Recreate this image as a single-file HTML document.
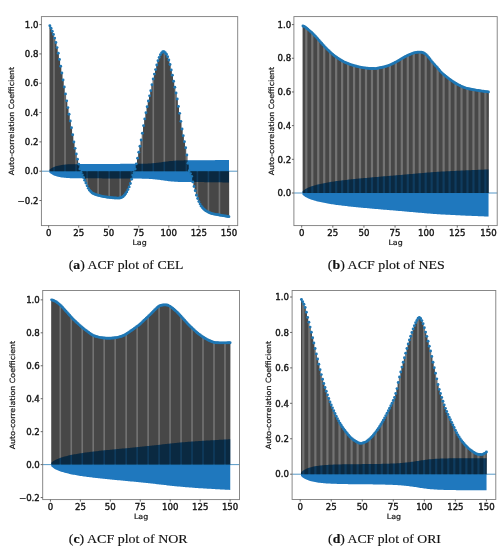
<!DOCTYPE html>
<html lang="en"><head><meta charset="utf-8"><title>ACF plots</title>
<style>
html,body{margin:0;padding:0;background:#fff;}
body{width:504px;height:550px;overflow:hidden;position:relative;}
svg{position:absolute;left:0;top:0;display:block;}
.tk{font-family:"DejaVu Sans","Liberation Sans",sans-serif;font-size:8.6px;fill:#161616;stroke:#161616;stroke-width:0.4px;}
.lb{font-family:"DejaVu Sans","Liberation Sans",sans-serif;font-size:7.9px;fill:#161616;stroke:#161616;stroke-width:0.22px;}
.cap{font-family:"Liberation Serif","DejaVu Serif",serif;font-size:13.0px;fill:#111;stroke:#111;stroke-width:0.15px;}
.cap .b{font-weight:bold;}
</style></head><body>
<svg width="504" height="550" viewBox="0 0 504 550">
<rect width="504" height="550" fill="#fff"/>
<g id="plot-a">
<polygon points="49.43,169.67 51.05,168.56 52.25,167.81 53.46,167.23 54.66,166.74 55.86,166.33 57.06,165.97 58.26,165.66 59.46,165.39 60.67,165.16 61.87,164.96 63.07,164.79 64.27,164.65 65.47,164.53 66.67,164.44 67.88,164.36 69.08,164.29 70.28,164.24 71.48,164.2 72.68,164.17 73.88,164.15 75.09,164.14 76.29,164.13 77.49,164.12 78.69,164.12 79.89,164.12 81.09,164.12 82.3,164.12 83.5,164.12 84.7,164.12 85.9,164.12 87.1,164.12 88.31,164.11 89.51,164.11 90.71,164.1 91.91,164.1 93.11,164.09 94.31,164.08 95.52,164.07 96.72,164.07 97.92,164.06 99.12,164.05 100.32,164.04 101.52,164.03 102.72,164.02 103.93,164.01 105.13,164 106.33,163.99 107.53,163.98 108.73,163.97 109.94,163.96 111.14,163.95 112.34,163.94 113.54,163.93 114.74,163.92 115.94,163.91 117.15,163.9 118.35,163.89 119.55,163.88 120.75,163.86 121.95,163.85 123.15,163.84 124.35,163.83 125.56,163.83 126.76,163.82 127.96,163.81 129.16,163.81 130.36,163.8 131.56,163.8 132.77,163.8 133.97,163.8 135.17,163.8 136.37,163.8 137.57,163.8 138.78,163.8 139.98,163.79 141.18,163.78 142.38,163.77 143.58,163.75 144.78,163.72 145.98,163.68 147.19,163.63 148.39,163.57 149.59,163.5 150.79,163.42 151.99,163.32 153.19,163.22 154.4,163.11 155.6,162.98 156.8,162.84 158,162.7 159.2,162.54 160.41,162.38 161.61,162.21 162.81,162.04 164.01,161.87 165.21,161.71 166.41,161.54 167.62,161.39 168.82,161.25 170.02,161.11 171.22,160.99 172.42,160.88 173.62,160.78 174.82,160.7 176.03,160.62 177.23,160.56 178.43,160.51 179.63,160.46 180.83,160.43 182.03,160.4 183.24,160.39 184.44,160.37 185.64,160.36 186.84,160.36 188.04,160.36 189.25,160.35 190.45,160.35 191.65,160.35 192.85,160.35 194.05,160.35 195.25,160.35 196.46,160.35 197.66,160.34 198.86,160.33 200.06,160.32 201.26,160.31 202.46,160.3 203.66,160.29 204.87,160.27 206.07,160.26 207.27,160.24 208.47,160.23 209.67,160.21 210.88,160.19 212.08,160.17 213.28,160.16 214.48,160.14 215.68,160.12 216.88,160.1 218.09,160.08 219.29,160.06 220.49,160.05 221.69,160.03 222.89,160.01 224.09,159.99 225.3,159.97 226.5,159.95 227.7,159.93 229.02,159.91 229.02,182.49 227.7,182.47 226.5,182.45 225.3,182.43 224.09,182.41 222.89,182.39 221.69,182.37 220.49,182.35 219.29,182.34 218.09,182.32 216.88,182.3 215.68,182.28 214.48,182.26 213.28,182.24 212.08,182.23 210.88,182.21 209.67,182.19 208.47,182.17 207.27,182.16 206.07,182.14 204.87,182.13 203.66,182.11 202.46,182.1 201.26,182.09 200.06,182.08 198.86,182.07 197.66,182.06 196.46,182.05 195.25,182.05 194.05,182.05 192.85,182.05 191.65,182.05 190.45,182.05 189.25,182.05 188.04,182.04 186.84,182.04 185.64,182.04 184.44,182.03 183.24,182.01 182.03,182 180.83,181.97 179.63,181.94 178.43,181.89 177.23,181.84 176.03,181.78 174.82,181.7 173.62,181.62 172.42,181.52 171.22,181.41 170.02,181.29 168.82,181.15 167.62,181.01 166.41,180.86 165.21,180.69 164.01,180.53 162.81,180.36 161.61,180.19 160.41,180.02 159.2,179.86 158,179.7 156.8,179.56 155.6,179.42 154.4,179.29 153.19,179.18 151.99,179.08 150.79,178.98 149.59,178.9 148.39,178.83 147.19,178.77 145.98,178.72 144.78,178.68 143.58,178.65 142.38,178.63 141.18,178.62 139.98,178.61 138.78,178.6 137.57,178.6 136.37,178.6 135.17,178.6 133.97,178.6 132.77,178.6 131.56,178.6 130.36,178.6 129.16,178.59 127.96,178.59 126.76,178.58 125.56,178.57 124.35,178.57 123.15,178.56 121.95,178.55 120.75,178.54 119.55,178.52 118.35,178.51 117.15,178.5 115.94,178.49 114.74,178.48 113.54,178.47 112.34,178.46 111.14,178.45 109.94,178.44 108.73,178.43 107.53,178.42 106.33,178.41 105.13,178.4 103.93,178.39 102.72,178.38 101.52,178.37 100.32,178.36 99.12,178.35 97.92,178.34 96.72,178.33 95.52,178.33 94.31,178.32 93.11,178.31 91.91,178.3 90.71,178.3 89.51,178.29 88.31,178.29 87.1,178.28 85.9,178.28 84.7,178.28 83.5,178.28 82.3,178.28 81.09,178.28 79.89,178.28 78.69,178.28 77.49,178.28 76.29,178.27 75.09,178.26 73.88,178.25 72.68,178.23 71.48,178.2 70.28,178.16 69.08,178.11 67.88,178.04 66.67,177.96 65.47,177.87 64.27,177.75 63.07,177.61 61.87,177.44 60.67,177.24 59.46,177.01 58.26,176.74 57.06,176.43 55.86,176.07 54.66,175.66 53.46,175.17 52.25,174.59 51.05,173.84 49.43,172.73" fill="#1f78bf"/>
<rect x="41.4" y="170.7" width="196.3" height="1" fill="#1f77b4" opacity="0.75"/>
<clipPath id="cp-a"><polygon points="49.37,171.2 49.25,25.77 50.45,25.77 50.45,28.31 51.65,28.31 51.65,31.2 52.86,31.2 52.86,34.39 54.06,34.39 54.06,38.09 55.26,38.09 55.26,42.52 56.46,42.52 56.46,47.62 57.66,47.62 57.66,53.19 58.86,53.19 58.86,59.47 60.07,59.47 60.07,66.23 61.27,66.23 61.27,73.02 62.47,73.02 62.47,79.94 63.67,79.94 63.67,86.94 64.87,86.94 64.87,93.92 66.07,93.92 66.07,100.83 67.28,100.83 67.28,107.61 68.48,107.61 68.48,114.31 69.68,114.31 69.68,121 70.88,121 70.88,127.77 72.08,127.77 72.08,134.7 73.28,134.7 73.28,142.06 74.49,142.06 74.49,148.35 75.69,148.35 75.69,153.95 76.89,153.95 76.89,159.13 78.09,159.13 78.09,164.11 79.29,164.11 79.29,168.9 80.49,168.9 80.49,172.39 81.7,172.39 81.7,174.84 82.9,174.84 82.9,177.45 84.1,177.45 84.1,180.24 85.3,180.24 85.3,183.07 86.5,183.07 86.5,185.83 87.7,185.83 87.7,188.36 88.91,188.36 88.91,190.16 90.11,190.16 90.11,191.57 91.31,191.57 91.31,192.68 92.51,192.68 92.51,193.47 93.71,193.47 93.71,194.05 94.91,194.05 94.91,194.51 96.12,194.51 96.12,194.9 97.32,194.9 97.32,195.24 98.52,195.24 98.52,195.56 99.72,195.56 99.72,195.86 100.92,195.86 100.92,196.15 102.12,196.15 102.12,196.41 103.33,196.41 103.33,196.65 104.53,196.65 104.53,196.87 105.73,196.87 105.73,197.06 106.93,197.06 106.93,197.22 108.13,197.22 108.13,197.36 109.33,197.36 109.33,197.5 110.54,197.5 110.54,197.63 111.74,197.63 111.74,197.76 112.94,197.76 112.94,197.87 114.14,197.87 114.14,197.96 115.34,197.96 115.34,198.04 116.54,198.04 116.54,198.08 117.75,198.08 117.75,198.1 118.95,198.1 118.95,197.98 120.15,197.98 120.15,197.68 121.35,197.68 121.35,197.24 122.55,197.24 122.55,196.53 123.75,196.53 123.75,195.27 124.96,195.27 124.96,193.69 126.16,193.69 126.16,191.89 127.36,191.89 127.36,189.61 128.56,189.61 128.56,186.89 129.76,186.89 129.76,183.43 130.96,183.43 130.96,179.2 132.17,179.2 132.17,175.09 133.37,175.09 133.37,172.69 134.57,172.69 134.57,169.11 135.77,169.11 135.77,163.87 136.97,163.87 136.97,158.16 138.17,158.16 138.17,152.26 139.38,152.26 139.38,146.27 140.58,146.27 140.58,140.04 141.78,140.04 141.78,133.19 142.98,133.19 142.98,125.65 144.18,125.65 144.18,118.91 145.38,118.91 145.38,112.77 146.59,112.77 146.59,106.74 147.79,106.74 147.79,100.94 148.99,100.94 148.99,95.84 150.19,95.84 150.19,90.66 151.39,90.66 151.39,84.82 152.59,84.82 152.59,78.95 153.8,78.95 153.8,74.09 155,74.09 155,69.59 156.2,69.59 156.2,65.05 157.4,65.05 157.4,60.77 158.6,60.77 158.6,57.41 159.8,57.41 159.8,54.72 161.01,54.72 161.01,52.83 162.21,52.83 162.21,51.77 163.41,51.77 163.41,51.65 164.61,51.65 164.61,52.68 165.81,52.68 165.81,54.31 167.01,54.31 167.01,56.72 168.22,56.72 168.22,59.94 169.42,59.94 169.42,64.48 170.62,64.48 170.62,70.04 171.82,70.04 171.82,75.15 173.02,75.15 173.02,81.31 174.22,81.31 174.22,87.25 175.43,87.25 175.43,93.06 176.63,93.06 176.63,99.07 177.83,99.07 177.83,106.39 179.03,106.39 179.03,113.33 180.23,113.33 180.23,121.34 181.43,121.34 181.43,129.06 182.64,129.06 182.64,135.65 183.84,135.65 183.84,141.65 185.04,141.65 185.04,147.76 186.24,147.76 186.24,154.99 187.44,154.99 187.44,163.31 188.64,163.31 188.64,170.73 189.85,170.73 189.85,173.62 191.05,173.62 191.05,176.36 192.25,176.36 192.25,181.91 193.45,181.91 193.45,186.51 194.65,186.51 194.65,190.77 195.85,190.77 195.85,195.19 197.06,195.19 197.06,198.47 198.26,198.47 198.26,201.6 199.46,201.6 199.46,204.1 200.66,204.1 200.66,206.17 201.86,206.17 201.86,207.72 203.06,207.72 203.06,209.01 204.27,209.01 204.27,210.06 205.47,210.06 205.47,210.88 206.67,210.88 206.67,211.61 207.87,211.61 207.87,212.25 209.07,212.25 209.07,212.81 210.27,212.81 210.27,213.27 211.48,213.27 211.48,213.63 212.68,213.63 212.68,213.92 213.88,213.92 213.88,214.17 215.08,214.17 215.08,214.38 216.28,214.38 216.28,214.58 217.48,214.58 217.48,214.79 218.69,214.79 218.69,215.01 219.89,215.01 219.89,215.22 221.09,215.22 221.09,215.42 222.29,215.42 222.29,215.63 223.49,215.63 223.49,215.83 224.69,215.83 224.69,216.04 225.9,216.04 225.9,216.24 227.1,216.24 227.1,216.44 228.3,216.44 228.3,216.65 229.5,216.65 229.32,171.2"/></clipPath>
<g clip-path="url(#cp-a)">
<rect x="49.37" y="16.6" width="179.95" height="209" fill="#000" opacity="0.55"/>
<g fill="#000" opacity="0.38"><rect x="49.37" y="16.6" width="3.83" height="209"/><rect x="54.8" y="16.6" width="9.43" height="209"/><rect x="65.83" y="16.6" width="9.43" height="209"/><rect x="76.86" y="16.6" width="9.43" height="209"/><rect x="87.89" y="16.6" width="9.43" height="209"/><rect x="98.92" y="16.6" width="9.43" height="209"/><rect x="109.95" y="16.6" width="9.43" height="209"/><rect x="120.98" y="16.6" width="9.43" height="209"/><rect x="132.01" y="16.6" width="9.43" height="209"/><rect x="143.04" y="16.6" width="9.43" height="209"/><rect x="154.07" y="16.6" width="9.43" height="209"/><rect x="165.1" y="16.6" width="9.43" height="209"/><rect x="176.13" y="16.6" width="9.43" height="209"/><rect x="187.16" y="16.6" width="9.43" height="209"/><rect x="198.19" y="16.6" width="9.43" height="209"/><rect x="209.22" y="16.6" width="9.43" height="209"/><rect x="220.25" y="16.6" width="9.07" height="209"/></g>
</g>
<polygon points="49.43,169.67 51.05,168.56 52.25,167.81 53.46,167.23 54.66,166.74 55.86,166.33 57.06,165.97 58.26,165.66 59.46,165.39 60.67,165.16 61.87,164.96 63.07,164.79 64.27,164.65 65.47,164.53 66.67,164.44 67.88,164.36 69.08,164.29 70.28,164.24 71.48,164.2 72.68,164.17 73.88,164.15 75.09,164.14 76.29,164.13 77.49,164.12 78.69,164.12 79.89,164.12 81.09,164.12 82.3,164.12 83.5,164.12 84.7,164.12 85.9,164.12 87.1,164.12 88.31,164.11 89.51,164.11 90.71,164.1 91.91,164.1 93.11,164.09 94.31,164.08 95.52,164.07 96.72,164.07 97.92,164.06 99.12,164.05 100.32,164.04 101.52,164.03 102.72,164.02 103.93,164.01 105.13,164 106.33,163.99 107.53,163.98 108.73,163.97 109.94,163.96 111.14,163.95 112.34,163.94 113.54,163.93 114.74,163.92 115.94,163.91 117.15,163.9 118.35,163.89 119.55,163.88 120.75,163.86 121.95,163.85 123.15,163.84 124.35,163.83 125.56,163.83 126.76,163.82 127.96,163.81 129.16,163.81 130.36,163.8 131.56,163.8 132.77,163.8 133.97,163.8 135.17,163.8 136.37,163.8 137.57,163.8 138.78,163.8 139.98,163.79 141.18,163.78 142.38,163.77 143.58,163.75 144.78,163.72 145.98,163.68 147.19,163.63 148.39,163.57 149.59,163.5 150.79,163.42 151.99,163.32 153.19,163.22 154.4,163.11 155.6,162.98 156.8,162.84 158,162.7 159.2,162.54 160.41,162.38 161.61,162.21 162.81,162.04 164.01,161.87 165.21,161.71 166.41,161.54 167.62,161.39 168.82,161.25 170.02,161.11 171.22,160.99 172.42,160.88 173.62,160.78 174.82,160.7 176.03,160.62 177.23,160.56 178.43,160.51 179.63,160.46 180.83,160.43 182.03,160.4 183.24,160.39 184.44,160.37 185.64,160.36 186.84,160.36 188.04,160.36 189.25,160.35 190.45,160.35 191.65,160.35 192.85,160.35 194.05,160.35 195.25,160.35 196.46,160.35 197.66,160.34 198.86,160.33 200.06,160.32 201.26,160.31 202.46,160.3 203.66,160.29 204.87,160.27 206.07,160.26 207.27,160.24 208.47,160.23 209.67,160.21 210.88,160.19 212.08,160.17 213.28,160.16 214.48,160.14 215.68,160.12 216.88,160.1 218.09,160.08 219.29,160.06 220.49,160.05 221.69,160.03 222.89,160.01 224.09,159.99 225.3,159.97 226.5,159.95 227.7,159.93 229.02,159.91 229.02,182.49 227.7,182.47 226.5,182.45 225.3,182.43 224.09,182.41 222.89,182.39 221.69,182.37 220.49,182.35 219.29,182.34 218.09,182.32 216.88,182.3 215.68,182.28 214.48,182.26 213.28,182.24 212.08,182.23 210.88,182.21 209.67,182.19 208.47,182.17 207.27,182.16 206.07,182.14 204.87,182.13 203.66,182.11 202.46,182.1 201.26,182.09 200.06,182.08 198.86,182.07 197.66,182.06 196.46,182.05 195.25,182.05 194.05,182.05 192.85,182.05 191.65,182.05 190.45,182.05 189.25,182.05 188.04,182.04 186.84,182.04 185.64,182.04 184.44,182.03 183.24,182.01 182.03,182 180.83,181.97 179.63,181.94 178.43,181.89 177.23,181.84 176.03,181.78 174.82,181.7 173.62,181.62 172.42,181.52 171.22,181.41 170.02,181.29 168.82,181.15 167.62,181.01 166.41,180.86 165.21,180.69 164.01,180.53 162.81,180.36 161.61,180.19 160.41,180.02 159.2,179.86 158,179.7 156.8,179.56 155.6,179.42 154.4,179.29 153.19,179.18 151.99,179.08 150.79,178.98 149.59,178.9 148.39,178.83 147.19,178.77 145.98,178.72 144.78,178.68 143.58,178.65 142.38,178.63 141.18,178.62 139.98,178.61 138.78,178.6 137.57,178.6 136.37,178.6 135.17,178.6 133.97,178.6 132.77,178.6 131.56,178.6 130.36,178.6 129.16,178.59 127.96,178.59 126.76,178.58 125.56,178.57 124.35,178.57 123.15,178.56 121.95,178.55 120.75,178.54 119.55,178.52 118.35,178.51 117.15,178.5 115.94,178.49 114.74,178.48 113.54,178.47 112.34,178.46 111.14,178.45 109.94,178.44 108.73,178.43 107.53,178.42 106.33,178.41 105.13,178.4 103.93,178.39 102.72,178.38 101.52,178.37 100.32,178.36 99.12,178.35 97.92,178.34 96.72,178.33 95.52,178.33 94.31,178.32 93.11,178.31 91.91,178.3 90.71,178.3 89.51,178.29 88.31,178.29 87.1,178.28 85.9,178.28 84.7,178.28 83.5,178.28 82.3,178.28 81.09,178.28 79.89,178.28 78.69,178.28 77.49,178.28 76.29,178.27 75.09,178.26 73.88,178.25 72.68,178.23 71.48,178.2 70.28,178.16 69.08,178.11 67.88,178.04 66.67,177.96 65.47,177.87 64.27,177.75 63.07,177.61 61.87,177.44 60.67,177.24 59.46,177.01 58.26,176.74 57.06,176.43 55.86,176.07 54.66,175.66 53.46,175.17 52.25,174.59 51.05,173.84 49.43,172.73" fill="#1f78bf" opacity="0.09"/>
<g fill="#1f77b4"><circle cx="49.85" cy="25.77" r="1.45"/><circle cx="51.05" cy="28.31" r="1.45"/><circle cx="52.25" cy="31.2" r="1.45"/><circle cx="53.46" cy="34.39" r="1.45"/><circle cx="54.66" cy="38.09" r="1.45"/><circle cx="55.86" cy="42.52" r="1.45"/><circle cx="57.06" cy="47.62" r="1.45"/><circle cx="58.26" cy="53.19" r="1.45"/><circle cx="59.46" cy="59.47" r="1.45"/><circle cx="60.67" cy="66.23" r="1.45"/><circle cx="61.87" cy="73.02" r="1.45"/><circle cx="63.07" cy="79.94" r="1.45"/><circle cx="64.27" cy="86.94" r="1.45"/><circle cx="65.47" cy="93.92" r="1.45"/><circle cx="66.67" cy="100.83" r="1.45"/><circle cx="67.88" cy="107.61" r="1.45"/><circle cx="69.08" cy="114.31" r="1.45"/><circle cx="70.28" cy="121" r="1.45"/><circle cx="71.48" cy="127.77" r="1.45"/><circle cx="72.68" cy="134.7" r="1.45"/><circle cx="73.88" cy="142.06" r="1.45"/><circle cx="75.09" cy="148.35" r="1.45"/><circle cx="76.29" cy="153.95" r="1.45"/><circle cx="77.49" cy="159.13" r="1.45"/><circle cx="78.69" cy="164.11" r="1.45"/><circle cx="79.89" cy="168.9" r="1.45"/><circle cx="81.09" cy="172.39" r="1.45"/><circle cx="82.3" cy="174.84" r="1.45"/><circle cx="83.5" cy="177.45" r="1.45"/><circle cx="84.7" cy="180.24" r="1.45"/><circle cx="85.9" cy="183.07" r="1.45"/><circle cx="87.1" cy="185.83" r="1.45"/><circle cx="88.31" cy="188.36" r="1.45"/><circle cx="89.51" cy="190.16" r="1.45"/><circle cx="90.71" cy="191.57" r="1.45"/><circle cx="91.91" cy="192.68" r="1.45"/><circle cx="93.11" cy="193.47" r="1.45"/><circle cx="94.31" cy="194.05" r="1.45"/><circle cx="95.52" cy="194.51" r="1.45"/><circle cx="96.72" cy="194.9" r="1.45"/><circle cx="97.92" cy="195.24" r="1.45"/><circle cx="99.12" cy="195.56" r="1.45"/><circle cx="100.32" cy="195.86" r="1.45"/><circle cx="101.52" cy="196.15" r="1.45"/><circle cx="102.72" cy="196.41" r="1.45"/><circle cx="103.93" cy="196.65" r="1.45"/><circle cx="105.13" cy="196.87" r="1.45"/><circle cx="106.33" cy="197.06" r="1.45"/><circle cx="107.53" cy="197.22" r="1.45"/><circle cx="108.73" cy="197.36" r="1.45"/><circle cx="109.94" cy="197.5" r="1.45"/><circle cx="111.14" cy="197.63" r="1.45"/><circle cx="112.34" cy="197.76" r="1.45"/><circle cx="113.54" cy="197.87" r="1.45"/><circle cx="114.74" cy="197.96" r="1.45"/><circle cx="115.94" cy="198.04" r="1.45"/><circle cx="117.15" cy="198.08" r="1.45"/><circle cx="118.35" cy="198.1" r="1.45"/><circle cx="119.55" cy="197.98" r="1.45"/><circle cx="120.75" cy="197.68" r="1.45"/><circle cx="121.95" cy="197.24" r="1.45"/><circle cx="123.15" cy="196.53" r="1.45"/><circle cx="124.35" cy="195.27" r="1.45"/><circle cx="125.56" cy="193.69" r="1.45"/><circle cx="126.76" cy="191.89" r="1.45"/><circle cx="127.96" cy="189.61" r="1.45"/><circle cx="129.16" cy="186.89" r="1.45"/><circle cx="130.36" cy="183.43" r="1.45"/><circle cx="131.56" cy="179.2" r="1.45"/><circle cx="132.77" cy="175.09" r="1.45"/><circle cx="133.97" cy="172.69" r="1.45"/><circle cx="135.17" cy="169.11" r="1.45"/><circle cx="136.37" cy="163.87" r="1.45"/><circle cx="137.57" cy="158.16" r="1.45"/><circle cx="138.78" cy="152.26" r="1.45"/><circle cx="139.98" cy="146.27" r="1.45"/><circle cx="141.18" cy="140.04" r="1.45"/><circle cx="142.38" cy="133.19" r="1.45"/><circle cx="143.58" cy="125.65" r="1.45"/><circle cx="144.78" cy="118.91" r="1.45"/><circle cx="145.98" cy="112.77" r="1.45"/><circle cx="147.19" cy="106.74" r="1.45"/><circle cx="148.39" cy="100.94" r="1.45"/><circle cx="149.59" cy="95.84" r="1.45"/><circle cx="150.79" cy="90.66" r="1.45"/><circle cx="151.99" cy="84.82" r="1.45"/><circle cx="153.19" cy="78.95" r="1.45"/><circle cx="154.4" cy="74.09" r="1.45"/><circle cx="155.6" cy="69.59" r="1.45"/><circle cx="156.8" cy="65.05" r="1.45"/><circle cx="158" cy="60.77" r="1.45"/><circle cx="159.2" cy="57.41" r="1.45"/><circle cx="160.41" cy="54.72" r="1.45"/><circle cx="161.61" cy="52.83" r="1.45"/><circle cx="162.81" cy="51.77" r="1.45"/><circle cx="164.01" cy="51.65" r="1.45"/><circle cx="165.21" cy="52.68" r="1.45"/><circle cx="166.41" cy="54.31" r="1.45"/><circle cx="167.62" cy="56.72" r="1.45"/><circle cx="168.82" cy="59.94" r="1.45"/><circle cx="170.02" cy="64.48" r="1.45"/><circle cx="171.22" cy="70.04" r="1.45"/><circle cx="172.42" cy="75.15" r="1.45"/><circle cx="173.62" cy="81.31" r="1.45"/><circle cx="174.82" cy="87.25" r="1.45"/><circle cx="176.03" cy="93.06" r="1.45"/><circle cx="177.23" cy="99.07" r="1.45"/><circle cx="178.43" cy="106.39" r="1.45"/><circle cx="179.63" cy="113.33" r="1.45"/><circle cx="180.83" cy="121.34" r="1.45"/><circle cx="182.03" cy="129.06" r="1.45"/><circle cx="183.24" cy="135.65" r="1.45"/><circle cx="184.44" cy="141.65" r="1.45"/><circle cx="185.64" cy="147.76" r="1.45"/><circle cx="186.84" cy="154.99" r="1.45"/><circle cx="188.04" cy="163.31" r="1.45"/><circle cx="189.25" cy="170.73" r="1.45"/><circle cx="190.45" cy="173.62" r="1.45"/><circle cx="191.65" cy="176.36" r="1.45"/><circle cx="192.85" cy="181.91" r="1.45"/><circle cx="194.05" cy="186.51" r="1.45"/><circle cx="195.25" cy="190.77" r="1.45"/><circle cx="196.46" cy="195.19" r="1.45"/><circle cx="197.66" cy="198.47" r="1.45"/><circle cx="198.86" cy="201.6" r="1.45"/><circle cx="200.06" cy="204.1" r="1.45"/><circle cx="201.26" cy="206.17" r="1.45"/><circle cx="202.46" cy="207.72" r="1.45"/><circle cx="203.66" cy="209.01" r="1.45"/><circle cx="204.87" cy="210.06" r="1.45"/><circle cx="206.07" cy="210.88" r="1.45"/><circle cx="207.27" cy="211.61" r="1.45"/><circle cx="208.47" cy="212.25" r="1.45"/><circle cx="209.67" cy="212.81" r="1.45"/><circle cx="210.88" cy="213.27" r="1.45"/><circle cx="212.08" cy="213.63" r="1.45"/><circle cx="213.28" cy="213.92" r="1.45"/><circle cx="214.48" cy="214.17" r="1.45"/><circle cx="215.68" cy="214.38" r="1.45"/><circle cx="216.88" cy="214.58" r="1.45"/><circle cx="218.09" cy="214.79" r="1.45"/><circle cx="219.29" cy="215.01" r="1.45"/><circle cx="220.49" cy="215.22" r="1.45"/><circle cx="221.69" cy="215.42" r="1.45"/><circle cx="222.89" cy="215.63" r="1.45"/><circle cx="224.09" cy="215.83" r="1.45"/><circle cx="225.3" cy="216.04" r="1.45"/><circle cx="226.5" cy="216.24" r="1.45"/><circle cx="227.7" cy="216.44" r="1.45"/><circle cx="228.9" cy="216.65" r="1.45"/></g>
<rect x="41.4" y="16.6" width="196.3" height="209" fill="none" stroke="#7c7c7c" stroke-width="0.9"/>
<g stroke="#555" stroke-width="0.9"><line x1="48.65" y1="225.6" x2="48.65" y2="227.6"/><line x1="78.69" y1="225.6" x2="78.69" y2="227.6"/><line x1="108.73" y1="225.6" x2="108.73" y2="227.6"/><line x1="138.78" y1="225.6" x2="138.78" y2="227.6"/><line x1="168.82" y1="225.6" x2="168.82" y2="227.6"/><line x1="198.86" y1="225.6" x2="198.86" y2="227.6"/><line x1="228.9" y1="225.6" x2="228.9" y2="227.6"/><line x1="39.4" y1="200.52" x2="41.4" y2="200.52"/><line x1="39.4" y1="171.2" x2="41.4" y2="171.2"/><line x1="39.4" y1="141.88" x2="41.4" y2="141.88"/><line x1="39.4" y1="112.56" x2="41.4" y2="112.56"/><line x1="39.4" y1="83.24" x2="41.4" y2="83.24"/><line x1="39.4" y1="53.92" x2="41.4" y2="53.92"/><line x1="39.4" y1="24.6" x2="41.4" y2="24.6"/></g>
<text class="tk" transform="translate(48.65,235.8) scale(1,0.93)" text-anchor="middle">0</text><text class="tk" transform="translate(78.69,235.8) scale(1,0.93)" text-anchor="middle">25</text><text class="tk" transform="translate(108.73,235.8) scale(1,0.93)" text-anchor="middle">50</text><text class="tk" transform="translate(138.78,235.8) scale(1,0.93)" text-anchor="middle">75</text><text class="tk" transform="translate(168.82,235.8) scale(1,0.93)" text-anchor="middle">100</text><text class="tk" transform="translate(198.86,235.8) scale(1,0.93)" text-anchor="middle">125</text><text class="tk" transform="translate(228.9,235.8) scale(1,0.93)" text-anchor="middle">150</text>
<text class="tk" transform="translate(38.4,203.72) scale(1,0.93)" text-anchor="end">−0.2</text><text class="tk" transform="translate(38.4,174.4) scale(1,0.93)" text-anchor="end">0.0</text><text class="tk" transform="translate(38.4,145.08) scale(1,0.93)" text-anchor="end">0.2</text><text class="tk" transform="translate(38.4,115.76) scale(1,0.93)" text-anchor="end">0.4</text><text class="tk" transform="translate(38.4,86.44) scale(1,0.93)" text-anchor="end">0.6</text><text class="tk" transform="translate(38.4,57.12) scale(1,0.93)" text-anchor="end">0.8</text><text class="tk" transform="translate(38.4,27.8) scale(1,0.93)" text-anchor="end">1.0</text>
<text class="lb" transform="translate(139.55,244.7) scale(1,0.92)" text-anchor="middle">Lag</text>
<text class="lb" transform="translate(13.6,121.1) rotate(-90) scale(1,0.92)" text-anchor="middle">Auto-correlation Coefficient</text>
<text class="cap" transform="translate(126.05,269) scale(1.058,1)" text-anchor="middle">(<tspan class="b">a</tspan>) ACF plot of CEL</text>
</g>
<g id="plot-b">
<polygon points="302.51,191.24 304.19,189.96 305.43,189.09 306.68,188.38 307.92,187.78 309.17,187.24 310.41,186.76 311.66,186.32 312.9,185.91 314.15,185.52 315.39,185.17 316.64,184.83 317.88,184.51 319.13,184.21 320.37,183.93 321.61,183.65 322.86,183.39 324.1,183.15 325.35,182.91 326.59,182.68 327.84,182.46 329.08,182.25 330.33,182.05 331.57,181.85 332.82,181.66 334.06,181.48 335.31,181.3 336.55,181.12 337.8,180.96 339.04,180.79 340.28,180.63 341.53,180.47 342.77,180.32 344.02,180.17 345.26,180.03 346.51,179.88 347.75,179.74 349,179.6 350.24,179.47 351.49,179.34 352.73,179.2 353.98,179.08 355.22,178.95 356.47,178.82 357.71,178.7 358.95,178.58 360.2,178.46 361.44,178.34 362.69,178.22 363.93,178.1 365.18,177.99 366.42,177.88 367.67,177.76 368.91,177.65 370.16,177.54 371.4,177.43 372.65,177.32 373.89,177.22 375.14,177.11 376.38,177 377.62,176.9 378.87,176.79 380.11,176.68 381.36,176.58 382.6,176.48 383.85,176.37 385.09,176.27 386.34,176.16 387.58,176.06 388.83,175.95 390.07,175.85 391.32,175.74 392.56,175.64 393.81,175.53 395.05,175.43 396.29,175.32 397.54,175.22 398.78,175.11 400.03,175 401.27,174.89 402.52,174.79 403.76,174.68 405.01,174.57 406.25,174.46 407.5,174.35 408.74,174.24 409.99,174.12 411.23,174.01 412.48,173.9 413.72,173.79 414.96,173.68 416.21,173.57 417.45,173.46 418.7,173.35 419.94,173.24 421.19,173.13 422.43,173.02 423.68,172.91 424.92,172.8 426.17,172.7 427.41,172.59 428.66,172.49 429.9,172.4 431.15,172.3 432.39,172.21 433.63,172.12 434.88,172.03 436.12,171.94 437.37,171.86 438.61,171.78 439.86,171.7 441.1,171.62 442.35,171.55 443.59,171.48 444.84,171.4 446.08,171.33 447.33,171.27 448.57,171.2 449.82,171.13 451.06,171.07 452.3,171 453.55,170.94 454.79,170.88 456.04,170.82 457.28,170.76 458.53,170.7 459.77,170.65 461.02,170.59 462.26,170.53 463.51,170.48 464.75,170.42 466,170.37 467.24,170.32 468.49,170.26 469.73,170.21 470.97,170.16 472.22,170.11 473.46,170.06 474.71,170.01 475.95,169.96 477.2,169.91 478.44,169.86 479.69,169.81 480.93,169.76 482.18,169.71 483.42,169.66 484.67,169.61 485.91,169.56 487.16,169.51 488.52,169.47 488.52,216.53 487.16,216.49 485.91,216.44 484.67,216.39 483.42,216.34 482.18,216.29 480.93,216.24 479.69,216.19 478.44,216.14 477.2,216.09 475.95,216.04 474.71,215.99 473.46,215.94 472.22,215.89 470.97,215.84 469.73,215.79 468.49,215.74 467.24,215.68 466,215.63 464.75,215.58 463.51,215.52 462.26,215.47 461.02,215.41 459.77,215.35 458.53,215.3 457.28,215.24 456.04,215.18 454.79,215.12 453.55,215.06 452.3,215 451.06,214.93 449.82,214.87 448.57,214.8 447.33,214.73 446.08,214.67 444.84,214.6 443.59,214.52 442.35,214.45 441.1,214.38 439.86,214.3 438.61,214.22 437.37,214.14 436.12,214.06 434.88,213.97 433.63,213.88 432.39,213.79 431.15,213.7 429.9,213.6 428.66,213.51 427.41,213.41 426.17,213.3 424.92,213.2 423.68,213.09 422.43,212.98 421.19,212.87 419.94,212.76 418.7,212.65 417.45,212.54 416.21,212.43 414.96,212.32 413.72,212.21 412.48,212.1 411.23,211.99 409.99,211.88 408.74,211.76 407.5,211.65 406.25,211.54 405.01,211.43 403.76,211.32 402.52,211.21 401.27,211.11 400.03,211 398.78,210.89 397.54,210.78 396.29,210.68 395.05,210.57 393.81,210.47 392.56,210.36 391.32,210.26 390.07,210.15 388.83,210.05 387.58,209.94 386.34,209.84 385.09,209.73 383.85,209.63 382.6,209.52 381.36,209.42 380.11,209.32 378.87,209.21 377.62,209.1 376.38,209 375.14,208.89 373.89,208.78 372.65,208.68 371.4,208.57 370.16,208.46 368.91,208.35 367.67,208.24 366.42,208.12 365.18,208.01 363.93,207.9 362.69,207.78 361.44,207.66 360.2,207.54 358.95,207.42 357.71,207.3 356.47,207.18 355.22,207.05 353.98,206.92 352.73,206.8 351.49,206.66 350.24,206.53 349,206.4 347.75,206.26 346.51,206.12 345.26,205.97 344.02,205.83 342.77,205.68 341.53,205.53 340.28,205.37 339.04,205.21 337.8,205.04 336.55,204.88 335.31,204.7 334.06,204.52 332.82,204.34 331.57,204.15 330.33,203.95 329.08,203.75 327.84,203.54 326.59,203.32 325.35,203.09 324.1,202.85 322.86,202.61 321.61,202.35 320.37,202.07 319.13,201.79 317.88,201.49 316.64,201.17 315.39,200.83 314.15,200.48 312.9,200.09 311.66,199.68 310.41,199.24 309.17,198.76 307.92,198.22 306.68,197.62 305.43,196.91 304.19,196.04 302.51,194.76" fill="#1f78bf"/>
<rect x="293.9" y="192.5" width="203.3" height="1" fill="#1f77b4" opacity="0.75"/>
<clipPath id="cp-b"><polygon points="302.45,193 302.32,25.95 303.57,25.95 303.57,26.55 304.81,26.55 304.81,27.29 306.06,27.29 306.06,28.25 307.3,28.25 307.3,29.32 308.55,29.32 308.55,30.34 309.79,30.34 309.79,31.4 311.04,31.4 311.03,32.53 312.28,32.53 312.28,33.74 313.52,33.74 313.52,34.99 314.77,34.99 314.77,36.28 316.01,36.28 316.01,37.62 317.26,37.62 317.26,39.01 318.5,39.01 318.5,40.44 319.75,40.44 319.75,41.86 320.99,41.86 320.99,43.26 322.24,43.26 322.24,44.66 323.48,44.66 323.48,46.03 324.73,46.03 324.73,47.37 325.97,47.37 325.97,48.64 327.22,48.64 327.22,49.88 328.46,49.88 328.46,51.07 329.71,51.07 329.7,52.22 330.95,52.22 330.95,53.33 332.19,53.33 332.19,54.4 333.44,54.4 333.44,55.43 334.68,55.43 334.68,56.4 335.93,56.4 335.93,57.31 337.17,57.31 337.17,58.16 338.42,58.16 338.42,58.97 339.66,58.97 339.66,59.74 340.91,59.74 340.91,60.48 342.15,60.48 342.15,61.2 343.4,61.2 343.4,61.87 344.64,61.87 344.64,62.49 345.89,62.49 345.89,63.03 347.13,63.03 347.13,63.53 348.38,63.53 348.37,63.99 349.62,63.99 349.62,64.43 350.86,64.43 350.86,64.84 352.11,64.84 352.11,65.24 353.35,65.24 353.35,65.61 354.6,65.61 354.6,65.96 355.84,65.96 355.84,66.29 357.09,66.29 357.09,66.6 358.33,66.6 358.33,66.89 359.58,66.89 359.58,67.16 360.82,67.16 360.82,67.4 362.07,67.4 362.07,67.63 363.31,67.63 363.31,67.84 364.56,67.84 364.56,68.02 365.8,68.02 365.8,68.16 367.05,68.16 367.04,68.29 368.29,68.29 368.29,68.4 369.53,68.4 369.53,68.47 370.78,68.47 370.78,68.51 372.02,68.51 372.02,68.55 373.27,68.55 373.27,68.57 374.51,68.57 374.51,68.59 375.76,68.59 375.76,68.52 377,68.52 377,68.31 378.25,68.31 378.25,68.04 379.49,68.04 379.49,67.77 380.74,67.77 380.74,67.53 381.98,67.53 381.98,67.27 383.23,67.27 383.23,66.99 384.47,66.99 384.47,66.67 385.72,66.67 385.71,66.3 386.96,66.3 386.96,65.87 388.2,65.87 388.2,65.39 389.45,65.39 389.45,64.87 390.69,64.87 390.69,64.33 391.94,64.33 391.94,63.77 393.18,63.77 393.18,63.16 394.43,63.16 394.43,62.51 395.67,62.51 395.67,61.83 396.92,61.83 396.92,61.14 398.16,61.14 398.16,60.42 399.41,60.42 399.41,59.66 400.65,59.66 400.65,58.89 401.9,58.89 401.9,58.14 403.14,58.14 403.14,57.44 404.38,57.44 404.38,56.79 405.63,56.79 405.63,56.16 406.87,56.16 406.87,55.56 408.12,55.56 408.12,55 409.36,55 409.36,54.43 410.61,54.43 410.61,53.89 411.85,53.89 411.85,53.4 413.1,53.4 413.1,53 414.34,53 414.34,52.65 415.59,52.65 415.59,52.38 416.83,52.38 416.83,52.25 418.08,52.25 418.08,52.16 419.32,52.16 419.32,52.17 420.57,52.17 420.57,52.3 421.81,52.3 421.81,52.52 423.06,52.52 423.05,52.99 424.3,52.99 424.3,53.65 425.54,53.65 425.54,54.63 426.79,54.63 426.79,56.07 428.03,56.07 428.03,57.56 429.28,57.56 429.28,59.07 430.52,59.07 430.52,60.64 431.77,60.64 431.77,62.15 433.01,62.15 433.01,63.58 434.26,63.58 434.26,64.96 435.5,64.96 435.5,66.34 436.75,66.34 436.75,67.75 437.99,67.75 437.99,69.23 439.24,69.23 439.24,70.71 440.48,70.71 440.48,72.1 441.73,72.1 441.72,73.34 442.97,73.34 442.97,74.45 444.21,74.45 444.21,75.48 445.46,75.48 445.46,76.48 446.7,76.48 446.7,77.46 447.95,77.46 447.95,78.43 449.19,78.43 449.19,79.36 450.44,79.36 450.44,80.25 451.68,80.25 451.68,81.1 452.93,81.1 452.93,81.94 454.17,81.94 454.17,82.74 455.42,82.74 455.42,83.5 456.66,83.5 456.66,84.21 457.91,84.21 457.91,84.89 459.15,84.89 459.15,85.54 460.39,85.54 460.39,86.16 461.64,86.16 461.64,86.72 462.88,86.72 462.88,87.21 464.13,87.21 464.13,87.66 465.37,87.66 465.37,88.08 466.62,88.08 466.62,88.45 467.86,88.45 467.86,88.78 469.11,88.78 469.11,89.06 470.35,89.06 470.35,89.31 471.6,89.31 471.6,89.52 472.84,89.52 472.84,89.72 474.09,89.72 474.09,89.92 475.33,89.92 475.33,90.13 476.58,90.13 476.58,90.34 477.82,90.34 477.82,90.54 479.06,90.54 479.06,90.74 480.31,90.74 480.31,90.93 481.55,90.93 481.55,91.12 482.8,91.12 482.8,91.3 484.04,91.3 484.04,91.47 485.29,91.47 485.29,91.64 486.53,91.64 486.53,91.8 487.78,91.8 487.78,91.96 489.02,91.96 488.84,193"/></clipPath>
<g clip-path="url(#cp-b)">
<rect x="302.45" y="16.6" width="186.39" height="209" fill="#000" opacity="0.55"/>
<g fill="#000" opacity="0.38"><rect x="302.45" y="16.6" width="2.75" height="209"/><rect x="307.4" y="16.6" width="3.77" height="209"/><rect x="313.37" y="16.6" width="3.77" height="209"/><rect x="319.34" y="16.6" width="3.77" height="209"/><rect x="325.31" y="16.6" width="3.77" height="209"/><rect x="331.28" y="16.6" width="3.77" height="209"/><rect x="337.25" y="16.6" width="3.77" height="209"/><rect x="343.22" y="16.6" width="3.77" height="209"/><rect x="349.19" y="16.6" width="3.77" height="209"/><rect x="355.16" y="16.6" width="3.77" height="209"/><rect x="361.13" y="16.6" width="3.77" height="209"/><rect x="367.1" y="16.6" width="3.77" height="209"/><rect x="373.07" y="16.6" width="3.77" height="209"/><rect x="379.04" y="16.6" width="3.77" height="209"/><rect x="385.01" y="16.6" width="3.77" height="209"/><rect x="390.98" y="16.6" width="3.77" height="209"/><rect x="396.95" y="16.6" width="3.77" height="209"/><rect x="402.92" y="16.6" width="3.77" height="209"/><rect x="408.89" y="16.6" width="3.77" height="209"/><rect x="414.86" y="16.6" width="3.77" height="209"/><rect x="420.83" y="16.6" width="3.77" height="209"/><rect x="426.8" y="16.6" width="3.77" height="209"/><rect x="432.77" y="16.6" width="3.77" height="209"/><rect x="438.74" y="16.6" width="3.77" height="209"/><rect x="444.71" y="16.6" width="3.77" height="209"/><rect x="450.68" y="16.6" width="3.77" height="209"/><rect x="456.65" y="16.6" width="3.77" height="209"/><rect x="462.62" y="16.6" width="3.77" height="209"/><rect x="468.59" y="16.6" width="3.77" height="209"/><rect x="474.56" y="16.6" width="3.77" height="209"/><rect x="480.53" y="16.6" width="3.77" height="209"/><rect x="486.5" y="16.6" width="2.34" height="209"/></g>
</g>
<polygon points="302.51,191.24 304.19,189.96 305.43,189.09 306.68,188.38 307.92,187.78 309.17,187.24 310.41,186.76 311.66,186.32 312.9,185.91 314.15,185.52 315.39,185.17 316.64,184.83 317.88,184.51 319.13,184.21 320.37,183.93 321.61,183.65 322.86,183.39 324.1,183.15 325.35,182.91 326.59,182.68 327.84,182.46 329.08,182.25 330.33,182.05 331.57,181.85 332.82,181.66 334.06,181.48 335.31,181.3 336.55,181.12 337.8,180.96 339.04,180.79 340.28,180.63 341.53,180.47 342.77,180.32 344.02,180.17 345.26,180.03 346.51,179.88 347.75,179.74 349,179.6 350.24,179.47 351.49,179.34 352.73,179.2 353.98,179.08 355.22,178.95 356.47,178.82 357.71,178.7 358.95,178.58 360.2,178.46 361.44,178.34 362.69,178.22 363.93,178.1 365.18,177.99 366.42,177.88 367.67,177.76 368.91,177.65 370.16,177.54 371.4,177.43 372.65,177.32 373.89,177.22 375.14,177.11 376.38,177 377.62,176.9 378.87,176.79 380.11,176.68 381.36,176.58 382.6,176.48 383.85,176.37 385.09,176.27 386.34,176.16 387.58,176.06 388.83,175.95 390.07,175.85 391.32,175.74 392.56,175.64 393.81,175.53 395.05,175.43 396.29,175.32 397.54,175.22 398.78,175.11 400.03,175 401.27,174.89 402.52,174.79 403.76,174.68 405.01,174.57 406.25,174.46 407.5,174.35 408.74,174.24 409.99,174.12 411.23,174.01 412.48,173.9 413.72,173.79 414.96,173.68 416.21,173.57 417.45,173.46 418.7,173.35 419.94,173.24 421.19,173.13 422.43,173.02 423.68,172.91 424.92,172.8 426.17,172.7 427.41,172.59 428.66,172.49 429.9,172.4 431.15,172.3 432.39,172.21 433.63,172.12 434.88,172.03 436.12,171.94 437.37,171.86 438.61,171.78 439.86,171.7 441.1,171.62 442.35,171.55 443.59,171.48 444.84,171.4 446.08,171.33 447.33,171.27 448.57,171.2 449.82,171.13 451.06,171.07 452.3,171 453.55,170.94 454.79,170.88 456.04,170.82 457.28,170.76 458.53,170.7 459.77,170.65 461.02,170.59 462.26,170.53 463.51,170.48 464.75,170.42 466,170.37 467.24,170.32 468.49,170.26 469.73,170.21 470.97,170.16 472.22,170.11 473.46,170.06 474.71,170.01 475.95,169.96 477.2,169.91 478.44,169.86 479.69,169.81 480.93,169.76 482.18,169.71 483.42,169.66 484.67,169.61 485.91,169.56 487.16,169.51 488.52,169.47 488.52,216.53 487.16,216.49 485.91,216.44 484.67,216.39 483.42,216.34 482.18,216.29 480.93,216.24 479.69,216.19 478.44,216.14 477.2,216.09 475.95,216.04 474.71,215.99 473.46,215.94 472.22,215.89 470.97,215.84 469.73,215.79 468.49,215.74 467.24,215.68 466,215.63 464.75,215.58 463.51,215.52 462.26,215.47 461.02,215.41 459.77,215.35 458.53,215.3 457.28,215.24 456.04,215.18 454.79,215.12 453.55,215.06 452.3,215 451.06,214.93 449.82,214.87 448.57,214.8 447.33,214.73 446.08,214.67 444.84,214.6 443.59,214.52 442.35,214.45 441.1,214.38 439.86,214.3 438.61,214.22 437.37,214.14 436.12,214.06 434.88,213.97 433.63,213.88 432.39,213.79 431.15,213.7 429.9,213.6 428.66,213.51 427.41,213.41 426.17,213.3 424.92,213.2 423.68,213.09 422.43,212.98 421.19,212.87 419.94,212.76 418.7,212.65 417.45,212.54 416.21,212.43 414.96,212.32 413.72,212.21 412.48,212.1 411.23,211.99 409.99,211.88 408.74,211.76 407.5,211.65 406.25,211.54 405.01,211.43 403.76,211.32 402.52,211.21 401.27,211.11 400.03,211 398.78,210.89 397.54,210.78 396.29,210.68 395.05,210.57 393.81,210.47 392.56,210.36 391.32,210.26 390.07,210.15 388.83,210.05 387.58,209.94 386.34,209.84 385.09,209.73 383.85,209.63 382.6,209.52 381.36,209.42 380.11,209.32 378.87,209.21 377.62,209.1 376.38,209 375.14,208.89 373.89,208.78 372.65,208.68 371.4,208.57 370.16,208.46 368.91,208.35 367.67,208.24 366.42,208.12 365.18,208.01 363.93,207.9 362.69,207.78 361.44,207.66 360.2,207.54 358.95,207.42 357.71,207.3 356.47,207.18 355.22,207.05 353.98,206.92 352.73,206.8 351.49,206.66 350.24,206.53 349,206.4 347.75,206.26 346.51,206.12 345.26,205.97 344.02,205.83 342.77,205.68 341.53,205.53 340.28,205.37 339.04,205.21 337.8,205.04 336.55,204.88 335.31,204.7 334.06,204.52 332.82,204.34 331.57,204.15 330.33,203.95 329.08,203.75 327.84,203.54 326.59,203.32 325.35,203.09 324.1,202.85 322.86,202.61 321.61,202.35 320.37,202.07 319.13,201.79 317.88,201.49 316.64,201.17 315.39,200.83 314.15,200.48 312.9,200.09 311.66,199.68 310.41,199.24 309.17,198.76 307.92,198.22 306.68,197.62 305.43,196.91 304.19,196.04 302.51,194.76" fill="#1f78bf" opacity="0.09"/>
<g fill="#1f77b4"><circle cx="302.94" cy="25.95" r="1.45"/><circle cx="304.19" cy="26.55" r="1.45"/><circle cx="305.43" cy="27.29" r="1.45"/><circle cx="306.68" cy="28.25" r="1.45"/><circle cx="307.92" cy="29.32" r="1.45"/><circle cx="309.17" cy="30.34" r="1.45"/><circle cx="310.41" cy="31.4" r="1.45"/><circle cx="311.66" cy="32.53" r="1.45"/><circle cx="312.9" cy="33.74" r="1.45"/><circle cx="314.15" cy="34.99" r="1.45"/><circle cx="315.39" cy="36.28" r="1.45"/><circle cx="316.64" cy="37.62" r="1.45"/><circle cx="317.88" cy="39.01" r="1.45"/><circle cx="319.13" cy="40.44" r="1.45"/><circle cx="320.37" cy="41.86" r="1.45"/><circle cx="321.61" cy="43.26" r="1.45"/><circle cx="322.86" cy="44.66" r="1.45"/><circle cx="324.1" cy="46.03" r="1.45"/><circle cx="325.35" cy="47.37" r="1.45"/><circle cx="326.59" cy="48.64" r="1.45"/><circle cx="327.84" cy="49.88" r="1.45"/><circle cx="329.08" cy="51.07" r="1.45"/><circle cx="330.33" cy="52.22" r="1.45"/><circle cx="331.57" cy="53.33" r="1.45"/><circle cx="332.82" cy="54.4" r="1.45"/><circle cx="334.06" cy="55.43" r="1.45"/><circle cx="335.31" cy="56.4" r="1.45"/><circle cx="336.55" cy="57.31" r="1.45"/><circle cx="337.8" cy="58.16" r="1.45"/><circle cx="339.04" cy="58.97" r="1.45"/><circle cx="340.28" cy="59.74" r="1.45"/><circle cx="341.53" cy="60.48" r="1.45"/><circle cx="342.77" cy="61.2" r="1.45"/><circle cx="344.02" cy="61.87" r="1.45"/><circle cx="345.26" cy="62.49" r="1.45"/><circle cx="346.51" cy="63.03" r="1.45"/><circle cx="347.75" cy="63.53" r="1.45"/><circle cx="349" cy="63.99" r="1.45"/><circle cx="350.24" cy="64.43" r="1.45"/><circle cx="351.49" cy="64.84" r="1.45"/><circle cx="352.73" cy="65.24" r="1.45"/><circle cx="353.98" cy="65.61" r="1.45"/><circle cx="355.22" cy="65.96" r="1.45"/><circle cx="356.47" cy="66.29" r="1.45"/><circle cx="357.71" cy="66.6" r="1.45"/><circle cx="358.95" cy="66.89" r="1.45"/><circle cx="360.2" cy="67.16" r="1.45"/><circle cx="361.44" cy="67.4" r="1.45"/><circle cx="362.69" cy="67.63" r="1.45"/><circle cx="363.93" cy="67.84" r="1.45"/><circle cx="365.18" cy="68.02" r="1.45"/><circle cx="366.42" cy="68.16" r="1.45"/><circle cx="367.67" cy="68.29" r="1.45"/><circle cx="368.91" cy="68.4" r="1.45"/><circle cx="370.16" cy="68.47" r="1.45"/><circle cx="371.4" cy="68.51" r="1.45"/><circle cx="372.65" cy="68.55" r="1.45"/><circle cx="373.89" cy="68.57" r="1.45"/><circle cx="375.14" cy="68.59" r="1.45"/><circle cx="376.38" cy="68.52" r="1.45"/><circle cx="377.62" cy="68.31" r="1.45"/><circle cx="378.87" cy="68.04" r="1.45"/><circle cx="380.11" cy="67.77" r="1.45"/><circle cx="381.36" cy="67.53" r="1.45"/><circle cx="382.6" cy="67.27" r="1.45"/><circle cx="383.85" cy="66.99" r="1.45"/><circle cx="385.09" cy="66.67" r="1.45"/><circle cx="386.34" cy="66.3" r="1.45"/><circle cx="387.58" cy="65.87" r="1.45"/><circle cx="388.83" cy="65.39" r="1.45"/><circle cx="390.07" cy="64.87" r="1.45"/><circle cx="391.32" cy="64.33" r="1.45"/><circle cx="392.56" cy="63.77" r="1.45"/><circle cx="393.81" cy="63.16" r="1.45"/><circle cx="395.05" cy="62.51" r="1.45"/><circle cx="396.29" cy="61.83" r="1.45"/><circle cx="397.54" cy="61.14" r="1.45"/><circle cx="398.78" cy="60.42" r="1.45"/><circle cx="400.03" cy="59.66" r="1.45"/><circle cx="401.27" cy="58.89" r="1.45"/><circle cx="402.52" cy="58.14" r="1.45"/><circle cx="403.76" cy="57.44" r="1.45"/><circle cx="405.01" cy="56.79" r="1.45"/><circle cx="406.25" cy="56.16" r="1.45"/><circle cx="407.5" cy="55.56" r="1.45"/><circle cx="408.74" cy="55" r="1.45"/><circle cx="409.99" cy="54.43" r="1.45"/><circle cx="411.23" cy="53.89" r="1.45"/><circle cx="412.48" cy="53.4" r="1.45"/><circle cx="413.72" cy="53" r="1.45"/><circle cx="414.96" cy="52.65" r="1.45"/><circle cx="416.21" cy="52.38" r="1.45"/><circle cx="417.45" cy="52.25" r="1.45"/><circle cx="418.7" cy="52.16" r="1.45"/><circle cx="419.94" cy="52.17" r="1.45"/><circle cx="421.19" cy="52.3" r="1.45"/><circle cx="422.43" cy="52.52" r="1.45"/><circle cx="423.68" cy="52.99" r="1.45"/><circle cx="424.92" cy="53.65" r="1.45"/><circle cx="426.17" cy="54.63" r="1.45"/><circle cx="427.41" cy="56.07" r="1.45"/><circle cx="428.66" cy="57.56" r="1.45"/><circle cx="429.9" cy="59.07" r="1.45"/><circle cx="431.15" cy="60.64" r="1.45"/><circle cx="432.39" cy="62.15" r="1.45"/><circle cx="433.63" cy="63.58" r="1.45"/><circle cx="434.88" cy="64.96" r="1.45"/><circle cx="436.12" cy="66.34" r="1.45"/><circle cx="437.37" cy="67.75" r="1.45"/><circle cx="438.61" cy="69.23" r="1.45"/><circle cx="439.86" cy="70.71" r="1.45"/><circle cx="441.1" cy="72.1" r="1.45"/><circle cx="442.35" cy="73.34" r="1.45"/><circle cx="443.59" cy="74.45" r="1.45"/><circle cx="444.84" cy="75.48" r="1.45"/><circle cx="446.08" cy="76.48" r="1.45"/><circle cx="447.33" cy="77.46" r="1.45"/><circle cx="448.57" cy="78.43" r="1.45"/><circle cx="449.82" cy="79.36" r="1.45"/><circle cx="451.06" cy="80.25" r="1.45"/><circle cx="452.3" cy="81.1" r="1.45"/><circle cx="453.55" cy="81.94" r="1.45"/><circle cx="454.79" cy="82.74" r="1.45"/><circle cx="456.04" cy="83.5" r="1.45"/><circle cx="457.28" cy="84.21" r="1.45"/><circle cx="458.53" cy="84.89" r="1.45"/><circle cx="459.77" cy="85.54" r="1.45"/><circle cx="461.02" cy="86.16" r="1.45"/><circle cx="462.26" cy="86.72" r="1.45"/><circle cx="463.51" cy="87.21" r="1.45"/><circle cx="464.75" cy="87.66" r="1.45"/><circle cx="466" cy="88.08" r="1.45"/><circle cx="467.24" cy="88.45" r="1.45"/><circle cx="468.49" cy="88.78" r="1.45"/><circle cx="469.73" cy="89.06" r="1.45"/><circle cx="470.97" cy="89.31" r="1.45"/><circle cx="472.22" cy="89.52" r="1.45"/><circle cx="473.46" cy="89.72" r="1.45"/><circle cx="474.71" cy="89.92" r="1.45"/><circle cx="475.95" cy="90.13" r="1.45"/><circle cx="477.2" cy="90.34" r="1.45"/><circle cx="478.44" cy="90.54" r="1.45"/><circle cx="479.69" cy="90.74" r="1.45"/><circle cx="480.93" cy="90.93" r="1.45"/><circle cx="482.18" cy="91.12" r="1.45"/><circle cx="483.42" cy="91.3" r="1.45"/><circle cx="484.67" cy="91.47" r="1.45"/><circle cx="485.91" cy="91.64" r="1.45"/><circle cx="487.16" cy="91.8" r="1.45"/><circle cx="488.4" cy="91.96" r="1.45"/></g>
<rect x="293.9" y="16.6" width="203.3" height="209" fill="none" stroke="#7c7c7c" stroke-width="0.9"/>
<g stroke="#555" stroke-width="0.9"><line x1="301.7" y1="225.6" x2="301.7" y2="227.6"/><line x1="332.82" y1="225.6" x2="332.82" y2="227.6"/><line x1="363.93" y1="225.6" x2="363.93" y2="227.6"/><line x1="395.05" y1="225.6" x2="395.05" y2="227.6"/><line x1="426.17" y1="225.6" x2="426.17" y2="227.6"/><line x1="457.28" y1="225.6" x2="457.28" y2="227.6"/><line x1="488.4" y1="225.6" x2="488.4" y2="227.6"/><line x1="291.9" y1="193" x2="293.9" y2="193"/><line x1="291.9" y1="159.32" x2="293.9" y2="159.32"/><line x1="291.9" y1="125.64" x2="293.9" y2="125.64"/><line x1="291.9" y1="91.96" x2="293.9" y2="91.96"/><line x1="291.9" y1="58.28" x2="293.9" y2="58.28"/><line x1="291.9" y1="24.6" x2="293.9" y2="24.6"/></g>
<text class="tk" transform="translate(301.7,235.8) scale(1,0.93)" text-anchor="middle">0</text><text class="tk" transform="translate(332.82,235.8) scale(1,0.93)" text-anchor="middle">25</text><text class="tk" transform="translate(363.93,235.8) scale(1,0.93)" text-anchor="middle">50</text><text class="tk" transform="translate(395.05,235.8) scale(1,0.93)" text-anchor="middle">75</text><text class="tk" transform="translate(426.17,235.8) scale(1,0.93)" text-anchor="middle">100</text><text class="tk" transform="translate(457.28,235.8) scale(1,0.93)" text-anchor="middle">125</text><text class="tk" transform="translate(488.4,235.8) scale(1,0.93)" text-anchor="middle">150</text>
<text class="tk" transform="translate(291.2,196.2) scale(1,0.93)" text-anchor="end">0.0</text><text class="tk" transform="translate(291.2,162.52) scale(1,0.93)" text-anchor="end">0.2</text><text class="tk" transform="translate(291.2,128.84) scale(1,0.93)" text-anchor="end">0.4</text><text class="tk" transform="translate(291.2,95.16) scale(1,0.93)" text-anchor="end">0.6</text><text class="tk" transform="translate(291.2,61.48) scale(1,0.93)" text-anchor="end">0.8</text><text class="tk" transform="translate(291.2,27.8) scale(1,0.93)" text-anchor="end">1.0</text>
<text class="lb" transform="translate(395.55,244.7) scale(1,0.92)" text-anchor="middle">Lag</text>
<text class="lb" transform="translate(274.1,121.1) rotate(-90) scale(1,0.92)" text-anchor="middle">Auto-correlation Coefficient</text>
<text class="cap" transform="translate(386.3,269) scale(1.072,1)" text-anchor="middle">(<tspan class="b">b</tspan>) ACF plot of NES</text>
</g>
<g id="plot-c">
<polygon points="51.23,462.87 52.85,461.61 54.04,460.75 55.24,460.05 56.44,459.44 57.64,458.91 58.83,458.43 60.03,457.98 61.23,457.57 62.43,457.19 63.62,456.83 64.82,456.5 66.02,456.18 67.22,455.88 68.41,455.59 69.61,455.32 70.81,455.06 72.01,454.81 73.21,454.57 74.4,454.35 75.6,454.13 76.8,453.91 78,453.71 79.19,453.51 80.39,453.32 81.59,453.13 82.79,452.95 83.98,452.78 85.18,452.61 86.38,452.45 87.58,452.29 88.78,452.13 89.97,451.98 91.17,451.83 92.37,451.68 93.57,451.54 94.76,451.4 95.96,451.26 97.16,451.13 98.36,451 99.55,450.87 100.75,450.74 101.95,450.61 103.15,450.49 104.34,450.36 105.54,450.24 106.74,450.12 107.94,450 109.14,449.88 110.33,449.76 111.53,449.64 112.73,449.53 113.93,449.41 115.12,449.29 116.32,449.18 117.52,449.07 118.72,448.95 119.91,448.84 121.11,448.73 122.31,448.61 123.51,448.5 124.71,448.39 125.9,448.27 127.1,448.16 128.3,448.04 129.5,447.93 130.69,447.81 131.89,447.7 133.09,447.58 134.29,447.46 135.48,447.35 136.68,447.23 137.88,447.11 139.08,446.99 140.27,446.87 141.47,446.74 142.67,446.62 143.87,446.5 145.07,446.37 146.26,446.25 147.46,446.12 148.66,445.99 149.86,445.86 151.05,445.73 152.25,445.6 153.45,445.46 154.65,445.33 155.84,445.19 157.04,445.06 158.24,444.92 159.44,444.78 160.64,444.64 161.83,444.51 163.03,444.37 164.23,444.23 165.43,444.09 166.62,443.96 167.82,443.82 169.02,443.69 170.22,443.56 171.41,443.43 172.61,443.3 173.81,443.17 175.01,443.05 176.2,442.93 177.4,442.81 178.6,442.7 179.8,442.58 181,442.47 182.19,442.36 183.39,442.26 184.59,442.15 185.79,442.05 186.98,441.95 188.18,441.85 189.38,441.76 190.58,441.67 191.77,441.58 192.97,441.49 194.17,441.4 195.37,441.31 196.57,441.23 197.76,441.15 198.96,441.07 200.16,440.99 201.36,440.91 202.55,440.83 203.75,440.76 204.95,440.68 206.15,440.61 207.34,440.54 208.54,440.47 209.74,440.4 210.94,440.33 212.13,440.26 213.33,440.19 214.53,440.13 215.73,440.06 216.93,439.99 218.12,439.93 219.32,439.86 220.52,439.79 221.72,439.73 222.91,439.66 224.11,439.6 225.31,439.53 226.51,439.47 227.7,439.4 228.9,439.34 230.22,439.28 230.22,489.92 228.9,489.86 227.7,489.8 226.51,489.73 225.31,489.67 224.11,489.6 222.91,489.54 221.72,489.47 220.52,489.41 219.32,489.34 218.12,489.27 216.93,489.21 215.73,489.14 214.53,489.07 213.33,489.01 212.13,488.94 210.94,488.87 209.74,488.8 208.54,488.73 207.34,488.66 206.15,488.59 204.95,488.52 203.75,488.44 202.55,488.37 201.36,488.29 200.16,488.21 198.96,488.13 197.76,488.05 196.57,487.97 195.37,487.89 194.17,487.8 192.97,487.71 191.77,487.62 190.58,487.53 189.38,487.44 188.18,487.35 186.98,487.25 185.79,487.15 184.59,487.05 183.39,486.94 182.19,486.84 181,486.73 179.8,486.62 178.6,486.5 177.4,486.39 176.2,486.27 175.01,486.15 173.81,486.03 172.61,485.9 171.41,485.77 170.22,485.64 169.02,485.51 167.82,485.38 166.62,485.24 165.43,485.11 164.23,484.97 163.03,484.83 161.83,484.69 160.64,484.56 159.44,484.42 158.24,484.28 157.04,484.14 155.84,484.01 154.65,483.87 153.45,483.74 152.25,483.6 151.05,483.47 149.86,483.34 148.66,483.21 147.46,483.08 146.26,482.95 145.07,482.83 143.87,482.7 142.67,482.58 141.47,482.46 140.27,482.33 139.08,482.21 137.88,482.09 136.68,481.97 135.48,481.85 134.29,481.74 133.09,481.62 131.89,481.5 130.69,481.39 129.5,481.27 128.3,481.16 127.1,481.04 125.9,480.93 124.71,480.81 123.51,480.7 122.31,480.59 121.11,480.47 119.91,480.36 118.72,480.25 117.52,480.13 116.32,480.02 115.12,479.91 113.93,479.79 112.73,479.67 111.53,479.56 110.33,479.44 109.14,479.32 107.94,479.2 106.74,479.08 105.54,478.96 104.34,478.84 103.15,478.71 101.95,478.59 100.75,478.46 99.55,478.33 98.36,478.2 97.16,478.07 95.96,477.94 94.76,477.8 93.57,477.66 92.37,477.52 91.17,477.37 89.97,477.22 88.78,477.07 87.58,476.91 86.38,476.75 85.18,476.59 83.98,476.42 82.79,476.25 81.59,476.07 80.39,475.88 79.19,475.69 78,475.49 76.8,475.29 75.6,475.07 74.4,474.85 73.21,474.63 72.01,474.39 70.81,474.14 69.61,473.88 68.41,473.61 67.22,473.32 66.02,473.02 64.82,472.7 63.62,472.37 62.43,472.01 61.23,471.63 60.03,471.22 58.83,470.77 57.64,470.29 56.44,469.76 55.24,469.15 54.04,468.45 52.85,467.59 51.23,466.33" fill="#1f78bf"/>
<rect x="42.7" y="464.1" width="196.75" height="1" fill="#1f77b4" opacity="0.75"/>
<clipPath id="cp-c"><polygon points="51.17,464.6 51.05,299.85 52.25,299.85 52.25,300.24 53.44,300.24 53.44,300.74 54.64,300.74 54.64,301.33 55.84,301.33 55.84,302.04 57.04,302.04 57.04,302.89 58.23,302.89 58.23,303.84 59.43,303.84 59.43,304.89 60.63,304.89 60.63,306.06 61.83,306.06 61.83,307.32 63.03,307.32 63.03,308.59 64.22,308.59 64.22,309.88 65.42,309.88 65.42,311.23 66.62,311.23 66.62,312.6 67.82,312.6 67.82,313.95 69.01,313.95 69.01,315.27 70.21,315.27 70.21,316.59 71.41,316.59 71.41,317.89 72.61,317.89 72.61,319.16 73.8,319.16 73.8,320.36 75,320.36 75,321.52 76.2,321.52 76.2,322.65 77.4,322.65 77.4,323.75 78.6,323.75 78.6,324.83 79.79,324.83 79.79,325.89 80.99,325.89 80.99,326.94 82.19,326.94 82.19,327.95 83.39,327.95 83.39,328.92 84.58,328.92 84.58,329.85 85.78,329.85 85.78,330.75 86.98,330.75 86.98,331.62 88.18,331.62 88.18,332.47 89.37,332.47 89.37,333.33 90.57,333.33 90.57,334.2 91.77,334.2 91.77,334.98 92.97,334.98 92.97,335.6 94.16,335.6 94.16,336.06 95.36,336.06 95.36,336.46 96.56,336.46 96.56,336.79 97.76,336.79 97.76,337.08 98.96,337.08 98.96,337.36 100.15,337.36 100.15,337.61 101.35,337.61 101.35,337.82 102.55,337.82 102.55,337.98 103.75,337.98 103.75,338.07 104.94,338.07 104.94,338.14 106.14,338.14 106.14,338.2 107.34,338.2 107.34,338.23 108.54,338.23 108.54,338.23 109.73,338.23 109.73,338.2 110.93,338.2 110.93,338.14 112.13,338.14 112.13,338.06 113.33,338.06 113.33,337.96 114.53,337.96 114.53,337.81 115.72,337.81 115.72,337.61 116.92,337.61 116.92,337.37 118.12,337.37 118.12,337.11 119.32,337.11 119.32,336.81 120.51,336.81 120.51,336.44 121.71,336.44 121.71,336.02 122.91,336.02 122.91,335.55 124.11,335.55 124.11,334.95 125.3,334.95 125.3,334.22 126.5,334.22 126.5,333.43 127.7,333.43 127.7,332.64 128.9,332.64 128.9,331.85 130.09,331.85 130.09,331.03 131.29,331.03 131.29,330.2 132.49,330.2 132.49,329.35 133.69,329.35 133.69,328.48 134.89,328.48 134.89,327.59 136.08,327.59 136.08,326.7 137.28,326.7 137.28,325.85 138.48,325.85 138.48,324.99 139.68,324.99 139.68,324.03 140.87,324.03 140.87,322.87 142.07,322.87 142.07,321.64 143.27,321.64 143.27,320.47 144.47,320.47 144.47,319.36 145.66,319.36 145.66,318.26 146.86,318.26 146.86,317.16 148.06,317.16 148.06,316.04 149.26,316.04 149.26,314.9 150.46,314.9 150.46,313.7 151.65,313.7 151.65,312.44 152.85,312.44 152.85,311.21 154.05,311.21 154.05,310.06 155.25,310.06 155.25,308.94 156.44,308.94 156.44,307.8 157.64,307.8 157.64,306.79 158.84,306.79 158.84,306.02 160.04,306.02 160.04,305.56 161.23,305.56 161.23,305.23 162.43,305.23 162.43,305.03 163.63,305.03 163.63,304.9 164.83,304.9 164.83,304.89 166.02,304.89 166.02,305.03 167.22,305.03 167.22,305.29 168.42,305.29 168.42,305.87 169.62,305.87 169.62,306.55 170.82,306.55 170.82,307.35 172.01,307.35 172.01,308.26 173.21,308.26 173.21,309.23 174.41,309.23 174.41,310.25 175.61,310.25 175.61,311.35 176.8,311.35 176.8,312.52 178,312.52 178,313.73 179.2,313.73 179.2,314.97 180.4,314.97 180.4,316.25 181.59,316.25 181.59,317.59 182.79,317.59 182.79,318.95 183.99,318.95 183.99,320.28 185.19,320.28 185.19,321.6 186.39,321.6 186.39,322.92 187.58,322.92 187.58,324.22 188.78,324.22 188.78,325.47 189.98,325.47 189.98,326.66 191.18,326.66 191.18,327.81 192.37,327.81 192.37,328.92 193.57,328.92 193.57,330.01 194.77,330.01 194.77,331.08 195.97,331.08 195.97,332.14 197.16,332.14 197.16,333.17 198.36,333.17 198.36,334.15 199.56,334.15 199.56,335.06 200.76,335.06 200.76,335.91 201.95,335.91 201.95,336.71 203.15,336.71 203.15,337.47 204.35,337.47 204.35,338.19 205.55,338.19 205.55,338.9 206.75,338.9 206.75,339.58 207.94,339.58 207.94,340.19 209.14,340.19 209.14,340.72 210.34,340.72 210.34,341.23 211.54,341.23 211.54,341.73 212.73,341.73 212.73,342.16 213.93,342.16 213.93,342.47 215.13,342.47 215.13,342.62 216.33,342.62 216.33,342.71 217.52,342.71 217.52,342.78 218.72,342.78 218.72,342.83 219.92,342.83 219.92,342.85 221.12,342.85 221.12,342.85 222.32,342.85 222.32,342.85 223.51,342.85 223.51,342.85 224.71,342.85 224.71,342.84 225.91,342.84 225.91,342.83 227.11,342.83 227.11,342.81 228.3,342.81 228.3,342.79 229.5,342.79 229.5,342.77 230.7,342.77 230.52,464.6"/></clipPath>
<g clip-path="url(#cp-c)">
<rect x="51.17" y="290.55" width="179.35" height="209.05" fill="#000" opacity="0.55"/>
<g fill="#000" opacity="0.38"><rect x="51.17" y="290.55" width="8.3" height="209.05"/><rect x="61.07" y="290.55" width="9.38" height="209.05"/><rect x="72.05" y="290.55" width="9.38" height="209.05"/><rect x="83.03" y="290.55" width="9.38" height="209.05"/><rect x="94.01" y="290.55" width="9.38" height="209.05"/><rect x="104.99" y="290.55" width="9.38" height="209.05"/><rect x="115.97" y="290.55" width="9.38" height="209.05"/><rect x="126.95" y="290.55" width="9.38" height="209.05"/><rect x="137.93" y="290.55" width="9.38" height="209.05"/><rect x="148.91" y="290.55" width="9.38" height="209.05"/><rect x="159.89" y="290.55" width="9.38" height="209.05"/><rect x="170.87" y="290.55" width="9.38" height="209.05"/><rect x="181.85" y="290.55" width="9.38" height="209.05"/><rect x="192.83" y="290.55" width="9.38" height="209.05"/><rect x="203.81" y="290.55" width="9.38" height="209.05"/><rect x="214.79" y="290.55" width="9.38" height="209.05"/><rect x="225.77" y="290.55" width="4.75" height="209.05"/></g>
</g>
<polygon points="51.23,462.87 52.85,461.61 54.04,460.75 55.24,460.05 56.44,459.44 57.64,458.91 58.83,458.43 60.03,457.98 61.23,457.57 62.43,457.19 63.62,456.83 64.82,456.5 66.02,456.18 67.22,455.88 68.41,455.59 69.61,455.32 70.81,455.06 72.01,454.81 73.21,454.57 74.4,454.35 75.6,454.13 76.8,453.91 78,453.71 79.19,453.51 80.39,453.32 81.59,453.13 82.79,452.95 83.98,452.78 85.18,452.61 86.38,452.45 87.58,452.29 88.78,452.13 89.97,451.98 91.17,451.83 92.37,451.68 93.57,451.54 94.76,451.4 95.96,451.26 97.16,451.13 98.36,451 99.55,450.87 100.75,450.74 101.95,450.61 103.15,450.49 104.34,450.36 105.54,450.24 106.74,450.12 107.94,450 109.14,449.88 110.33,449.76 111.53,449.64 112.73,449.53 113.93,449.41 115.12,449.29 116.32,449.18 117.52,449.07 118.72,448.95 119.91,448.84 121.11,448.73 122.31,448.61 123.51,448.5 124.71,448.39 125.9,448.27 127.1,448.16 128.3,448.04 129.5,447.93 130.69,447.81 131.89,447.7 133.09,447.58 134.29,447.46 135.48,447.35 136.68,447.23 137.88,447.11 139.08,446.99 140.27,446.87 141.47,446.74 142.67,446.62 143.87,446.5 145.07,446.37 146.26,446.25 147.46,446.12 148.66,445.99 149.86,445.86 151.05,445.73 152.25,445.6 153.45,445.46 154.65,445.33 155.84,445.19 157.04,445.06 158.24,444.92 159.44,444.78 160.64,444.64 161.83,444.51 163.03,444.37 164.23,444.23 165.43,444.09 166.62,443.96 167.82,443.82 169.02,443.69 170.22,443.56 171.41,443.43 172.61,443.3 173.81,443.17 175.01,443.05 176.2,442.93 177.4,442.81 178.6,442.7 179.8,442.58 181,442.47 182.19,442.36 183.39,442.26 184.59,442.15 185.79,442.05 186.98,441.95 188.18,441.85 189.38,441.76 190.58,441.67 191.77,441.58 192.97,441.49 194.17,441.4 195.37,441.31 196.57,441.23 197.76,441.15 198.96,441.07 200.16,440.99 201.36,440.91 202.55,440.83 203.75,440.76 204.95,440.68 206.15,440.61 207.34,440.54 208.54,440.47 209.74,440.4 210.94,440.33 212.13,440.26 213.33,440.19 214.53,440.13 215.73,440.06 216.93,439.99 218.12,439.93 219.32,439.86 220.52,439.79 221.72,439.73 222.91,439.66 224.11,439.6 225.31,439.53 226.51,439.47 227.7,439.4 228.9,439.34 230.22,439.28 230.22,489.92 228.9,489.86 227.7,489.8 226.51,489.73 225.31,489.67 224.11,489.6 222.91,489.54 221.72,489.47 220.52,489.41 219.32,489.34 218.12,489.27 216.93,489.21 215.73,489.14 214.53,489.07 213.33,489.01 212.13,488.94 210.94,488.87 209.74,488.8 208.54,488.73 207.34,488.66 206.15,488.59 204.95,488.52 203.75,488.44 202.55,488.37 201.36,488.29 200.16,488.21 198.96,488.13 197.76,488.05 196.57,487.97 195.37,487.89 194.17,487.8 192.97,487.71 191.77,487.62 190.58,487.53 189.38,487.44 188.18,487.35 186.98,487.25 185.79,487.15 184.59,487.05 183.39,486.94 182.19,486.84 181,486.73 179.8,486.62 178.6,486.5 177.4,486.39 176.2,486.27 175.01,486.15 173.81,486.03 172.61,485.9 171.41,485.77 170.22,485.64 169.02,485.51 167.82,485.38 166.62,485.24 165.43,485.11 164.23,484.97 163.03,484.83 161.83,484.69 160.64,484.56 159.44,484.42 158.24,484.28 157.04,484.14 155.84,484.01 154.65,483.87 153.45,483.74 152.25,483.6 151.05,483.47 149.86,483.34 148.66,483.21 147.46,483.08 146.26,482.95 145.07,482.83 143.87,482.7 142.67,482.58 141.47,482.46 140.27,482.33 139.08,482.21 137.88,482.09 136.68,481.97 135.48,481.85 134.29,481.74 133.09,481.62 131.89,481.5 130.69,481.39 129.5,481.27 128.3,481.16 127.1,481.04 125.9,480.93 124.71,480.81 123.51,480.7 122.31,480.59 121.11,480.47 119.91,480.36 118.72,480.25 117.52,480.13 116.32,480.02 115.12,479.91 113.93,479.79 112.73,479.67 111.53,479.56 110.33,479.44 109.14,479.32 107.94,479.2 106.74,479.08 105.54,478.96 104.34,478.84 103.15,478.71 101.95,478.59 100.75,478.46 99.55,478.33 98.36,478.2 97.16,478.07 95.96,477.94 94.76,477.8 93.57,477.66 92.37,477.52 91.17,477.37 89.97,477.22 88.78,477.07 87.58,476.91 86.38,476.75 85.18,476.59 83.98,476.42 82.79,476.25 81.59,476.07 80.39,475.88 79.19,475.69 78,475.49 76.8,475.29 75.6,475.07 74.4,474.85 73.21,474.63 72.01,474.39 70.81,474.14 69.61,473.88 68.41,473.61 67.22,473.32 66.02,473.02 64.82,472.7 63.62,472.37 62.43,472.01 61.23,471.63 60.03,471.22 58.83,470.77 57.64,470.29 56.44,469.76 55.24,469.15 54.04,468.45 52.85,467.59 51.23,466.33" fill="#1f78bf" opacity="0.09"/>
<g fill="#1f77b4"><circle cx="51.65" cy="299.85" r="1.45"/><circle cx="52.85" cy="300.24" r="1.45"/><circle cx="54.04" cy="300.74" r="1.45"/><circle cx="55.24" cy="301.33" r="1.45"/><circle cx="56.44" cy="302.04" r="1.45"/><circle cx="57.64" cy="302.89" r="1.45"/><circle cx="58.83" cy="303.84" r="1.45"/><circle cx="60.03" cy="304.89" r="1.45"/><circle cx="61.23" cy="306.06" r="1.45"/><circle cx="62.43" cy="307.32" r="1.45"/><circle cx="63.62" cy="308.59" r="1.45"/><circle cx="64.82" cy="309.88" r="1.45"/><circle cx="66.02" cy="311.23" r="1.45"/><circle cx="67.22" cy="312.6" r="1.45"/><circle cx="68.41" cy="313.95" r="1.45"/><circle cx="69.61" cy="315.27" r="1.45"/><circle cx="70.81" cy="316.59" r="1.45"/><circle cx="72.01" cy="317.89" r="1.45"/><circle cx="73.21" cy="319.16" r="1.45"/><circle cx="74.4" cy="320.36" r="1.45"/><circle cx="75.6" cy="321.52" r="1.45"/><circle cx="76.8" cy="322.65" r="1.45"/><circle cx="78" cy="323.75" r="1.45"/><circle cx="79.19" cy="324.83" r="1.45"/><circle cx="80.39" cy="325.89" r="1.45"/><circle cx="81.59" cy="326.94" r="1.45"/><circle cx="82.79" cy="327.95" r="1.45"/><circle cx="83.98" cy="328.92" r="1.45"/><circle cx="85.18" cy="329.85" r="1.45"/><circle cx="86.38" cy="330.75" r="1.45"/><circle cx="87.58" cy="331.62" r="1.45"/><circle cx="88.78" cy="332.47" r="1.45"/><circle cx="89.97" cy="333.33" r="1.45"/><circle cx="91.17" cy="334.2" r="1.45"/><circle cx="92.37" cy="334.98" r="1.45"/><circle cx="93.57" cy="335.6" r="1.45"/><circle cx="94.76" cy="336.06" r="1.45"/><circle cx="95.96" cy="336.46" r="1.45"/><circle cx="97.16" cy="336.79" r="1.45"/><circle cx="98.36" cy="337.08" r="1.45"/><circle cx="99.55" cy="337.36" r="1.45"/><circle cx="100.75" cy="337.61" r="1.45"/><circle cx="101.95" cy="337.82" r="1.45"/><circle cx="103.15" cy="337.98" r="1.45"/><circle cx="104.34" cy="338.07" r="1.45"/><circle cx="105.54" cy="338.14" r="1.45"/><circle cx="106.74" cy="338.2" r="1.45"/><circle cx="107.94" cy="338.23" r="1.45"/><circle cx="109.14" cy="338.23" r="1.45"/><circle cx="110.33" cy="338.2" r="1.45"/><circle cx="111.53" cy="338.14" r="1.45"/><circle cx="112.73" cy="338.06" r="1.45"/><circle cx="113.93" cy="337.96" r="1.45"/><circle cx="115.12" cy="337.81" r="1.45"/><circle cx="116.32" cy="337.61" r="1.45"/><circle cx="117.52" cy="337.37" r="1.45"/><circle cx="118.72" cy="337.11" r="1.45"/><circle cx="119.91" cy="336.81" r="1.45"/><circle cx="121.11" cy="336.44" r="1.45"/><circle cx="122.31" cy="336.02" r="1.45"/><circle cx="123.51" cy="335.55" r="1.45"/><circle cx="124.71" cy="334.95" r="1.45"/><circle cx="125.9" cy="334.22" r="1.45"/><circle cx="127.1" cy="333.43" r="1.45"/><circle cx="128.3" cy="332.64" r="1.45"/><circle cx="129.5" cy="331.85" r="1.45"/><circle cx="130.69" cy="331.03" r="1.45"/><circle cx="131.89" cy="330.2" r="1.45"/><circle cx="133.09" cy="329.35" r="1.45"/><circle cx="134.29" cy="328.48" r="1.45"/><circle cx="135.48" cy="327.59" r="1.45"/><circle cx="136.68" cy="326.7" r="1.45"/><circle cx="137.88" cy="325.85" r="1.45"/><circle cx="139.08" cy="324.99" r="1.45"/><circle cx="140.27" cy="324.03" r="1.45"/><circle cx="141.47" cy="322.87" r="1.45"/><circle cx="142.67" cy="321.64" r="1.45"/><circle cx="143.87" cy="320.47" r="1.45"/><circle cx="145.07" cy="319.36" r="1.45"/><circle cx="146.26" cy="318.26" r="1.45"/><circle cx="147.46" cy="317.16" r="1.45"/><circle cx="148.66" cy="316.04" r="1.45"/><circle cx="149.86" cy="314.9" r="1.45"/><circle cx="151.05" cy="313.7" r="1.45"/><circle cx="152.25" cy="312.44" r="1.45"/><circle cx="153.45" cy="311.21" r="1.45"/><circle cx="154.65" cy="310.06" r="1.45"/><circle cx="155.84" cy="308.94" r="1.45"/><circle cx="157.04" cy="307.8" r="1.45"/><circle cx="158.24" cy="306.79" r="1.45"/><circle cx="159.44" cy="306.02" r="1.45"/><circle cx="160.64" cy="305.56" r="1.45"/><circle cx="161.83" cy="305.23" r="1.45"/><circle cx="163.03" cy="305.03" r="1.45"/><circle cx="164.23" cy="304.9" r="1.45"/><circle cx="165.43" cy="304.89" r="1.45"/><circle cx="166.62" cy="305.03" r="1.45"/><circle cx="167.82" cy="305.29" r="1.45"/><circle cx="169.02" cy="305.87" r="1.45"/><circle cx="170.22" cy="306.55" r="1.45"/><circle cx="171.41" cy="307.35" r="1.45"/><circle cx="172.61" cy="308.26" r="1.45"/><circle cx="173.81" cy="309.23" r="1.45"/><circle cx="175.01" cy="310.25" r="1.45"/><circle cx="176.2" cy="311.35" r="1.45"/><circle cx="177.4" cy="312.52" r="1.45"/><circle cx="178.6" cy="313.73" r="1.45"/><circle cx="179.8" cy="314.97" r="1.45"/><circle cx="181" cy="316.25" r="1.45"/><circle cx="182.19" cy="317.59" r="1.45"/><circle cx="183.39" cy="318.95" r="1.45"/><circle cx="184.59" cy="320.28" r="1.45"/><circle cx="185.79" cy="321.6" r="1.45"/><circle cx="186.98" cy="322.92" r="1.45"/><circle cx="188.18" cy="324.22" r="1.45"/><circle cx="189.38" cy="325.47" r="1.45"/><circle cx="190.58" cy="326.66" r="1.45"/><circle cx="191.77" cy="327.81" r="1.45"/><circle cx="192.97" cy="328.92" r="1.45"/><circle cx="194.17" cy="330.01" r="1.45"/><circle cx="195.37" cy="331.08" r="1.45"/><circle cx="196.57" cy="332.14" r="1.45"/><circle cx="197.76" cy="333.17" r="1.45"/><circle cx="198.96" cy="334.15" r="1.45"/><circle cx="200.16" cy="335.06" r="1.45"/><circle cx="201.36" cy="335.91" r="1.45"/><circle cx="202.55" cy="336.71" r="1.45"/><circle cx="203.75" cy="337.47" r="1.45"/><circle cx="204.95" cy="338.19" r="1.45"/><circle cx="206.15" cy="338.9" r="1.45"/><circle cx="207.34" cy="339.58" r="1.45"/><circle cx="208.54" cy="340.19" r="1.45"/><circle cx="209.74" cy="340.72" r="1.45"/><circle cx="210.94" cy="341.23" r="1.45"/><circle cx="212.13" cy="341.73" r="1.45"/><circle cx="213.33" cy="342.16" r="1.45"/><circle cx="214.53" cy="342.47" r="1.45"/><circle cx="215.73" cy="342.62" r="1.45"/><circle cx="216.93" cy="342.71" r="1.45"/><circle cx="218.12" cy="342.78" r="1.45"/><circle cx="219.32" cy="342.83" r="1.45"/><circle cx="220.52" cy="342.85" r="1.45"/><circle cx="221.72" cy="342.85" r="1.45"/><circle cx="222.91" cy="342.85" r="1.45"/><circle cx="224.11" cy="342.85" r="1.45"/><circle cx="225.31" cy="342.84" r="1.45"/><circle cx="226.51" cy="342.83" r="1.45"/><circle cx="227.7" cy="342.81" r="1.45"/><circle cx="228.9" cy="342.79" r="1.45"/><circle cx="230.1" cy="342.77" r="1.45"/></g>
<rect x="42.7" y="290.55" width="196.75" height="209.05" fill="none" stroke="#7c7c7c" stroke-width="0.9"/>
<g stroke="#555" stroke-width="0.9"><line x1="50.45" y1="499.6" x2="50.45" y2="501.6"/><line x1="80.39" y1="499.6" x2="80.39" y2="501.6"/><line x1="110.33" y1="499.6" x2="110.33" y2="501.6"/><line x1="140.27" y1="499.6" x2="140.27" y2="501.6"/><line x1="170.22" y1="499.6" x2="170.22" y2="501.6"/><line x1="200.16" y1="499.6" x2="200.16" y2="501.6"/><line x1="230.1" y1="499.6" x2="230.1" y2="501.6"/><line x1="40.7" y1="497.55" x2="42.7" y2="497.55"/><line x1="40.7" y1="464.6" x2="42.7" y2="464.6"/><line x1="40.7" y1="431.65" x2="42.7" y2="431.65"/><line x1="40.7" y1="398.7" x2="42.7" y2="398.7"/><line x1="40.7" y1="365.75" x2="42.7" y2="365.75"/><line x1="40.7" y1="332.8" x2="42.7" y2="332.8"/><line x1="40.7" y1="299.85" x2="42.7" y2="299.85"/></g>
<text class="tk" transform="translate(50.45,509.8) scale(1,0.93)" text-anchor="middle">0</text><text class="tk" transform="translate(80.39,509.8) scale(1,0.93)" text-anchor="middle">25</text><text class="tk" transform="translate(110.33,509.8) scale(1,0.93)" text-anchor="middle">50</text><text class="tk" transform="translate(140.27,509.8) scale(1,0.93)" text-anchor="middle">75</text><text class="tk" transform="translate(170.22,509.8) scale(1,0.93)" text-anchor="middle">100</text><text class="tk" transform="translate(200.16,509.8) scale(1,0.93)" text-anchor="middle">125</text><text class="tk" transform="translate(230.1,509.8) scale(1,0.93)" text-anchor="middle">150</text>
<text class="tk" transform="translate(39.8,500.75) scale(1,0.93)" text-anchor="end">−0.2</text><text class="tk" transform="translate(39.8,467.8) scale(1,0.93)" text-anchor="end">0.0</text><text class="tk" transform="translate(39.8,434.85) scale(1,0.93)" text-anchor="end">0.2</text><text class="tk" transform="translate(39.8,401.9) scale(1,0.93)" text-anchor="end">0.4</text><text class="tk" transform="translate(39.8,368.95) scale(1,0.93)" text-anchor="end">0.6</text><text class="tk" transform="translate(39.8,336) scale(1,0.93)" text-anchor="end">0.8</text><text class="tk" transform="translate(39.8,303.05) scale(1,0.93)" text-anchor="end">1.0</text>
<text class="lb" transform="translate(141.07,518.7) scale(1,0.92)" text-anchor="middle">Lag</text>
<text class="lb" transform="translate(15.1,395.08) rotate(-90) scale(1,0.92)" text-anchor="middle">Auto-correlation Coefficient</text>
<text class="cap" transform="translate(128.2,543) scale(1.077,1)" text-anchor="middle">(<tspan class="b">c</tspan>) ACF plot of NOR</text>
</g>
<g id="plot-d">
<polygon points="301.01,472.34 302.68,471.02 303.92,470.12 305.17,469.4 306.41,468.81 307.65,468.3 308.89,467.86 310.13,467.47 311.37,467.13 312.61,466.82 313.85,466.55 315.1,466.31 316.34,466.09 317.58,465.9 318.82,465.72 320.06,465.57 321.3,465.43 322.54,465.31 323.79,465.2 325.03,465.1 326.27,465.01 327.51,464.93 328.75,464.85 329.99,464.78 331.23,464.72 332.47,464.67 333.72,464.62 334.96,464.57 336.2,464.53 337.44,464.49 338.68,464.46 339.92,464.43 341.16,464.4 342.41,464.37 343.65,464.34 344.89,464.32 346.13,464.3 347.37,464.28 348.61,464.26 349.85,464.25 351.09,464.23 352.34,464.22 353.58,464.2 354.82,464.19 356.06,464.18 357.3,464.17 358.54,464.15 359.78,464.14 361.03,464.13 362.27,464.12 363.51,464.11 364.75,464.1 365.99,464.09 367.23,464.08 368.47,464.07 369.71,464.06 370.96,464.04 372.2,464.03 373.44,464.01 374.68,464 375.92,463.98 377.16,463.96 378.4,463.94 379.65,463.92 380.89,463.89 382.13,463.87 383.37,463.84 384.61,463.81 385.85,463.77 387.09,463.74 388.33,463.7 389.58,463.66 390.82,463.61 392.06,463.56 393.3,463.51 394.54,463.45 395.78,463.4 397.02,463.33 398.27,463.26 399.51,463.17 400.75,463.08 401.99,462.98 403.23,462.86 404.47,462.74 405.71,462.61 406.95,462.48 408.2,462.33 409.44,462.17 410.68,462.01 411.92,461.84 413.16,461.66 414.4,461.48 415.64,461.29 416.89,461.1 418.13,460.9 419.37,460.7 420.61,460.51 421.85,460.31 423.09,460.13 424.33,459.95 425.57,459.79 426.82,459.64 428.06,459.49 429.3,459.36 430.54,459.24 431.78,459.13 433.02,459.03 434.26,458.94 435.51,458.86 436.75,458.79 437.99,458.72 439.23,458.66 440.47,458.61 441.71,458.57 442.95,458.53 444.19,458.49 445.44,458.46 446.68,458.43 447.92,458.4 449.16,458.37 450.4,458.35 451.64,458.33 452.88,458.31 454.13,458.3 455.37,458.28 456.61,458.27 457.85,458.26 459.09,458.24 460.33,458.24 461.57,458.23 462.81,458.22 464.06,458.21 465.3,458.21 466.54,458.2 467.78,458.19 469.02,458.19 470.26,458.19 471.5,458.18 472.75,458.18 473.99,458.17 475.23,458.17 476.47,458.17 477.71,458.16 478.95,458.16 480.19,458.16 481.43,458.16 482.68,458.15 483.92,458.15 485.16,458.15 486.52,458.15 486.52,490.25 485.16,490.25 483.92,490.25 482.68,490.25 481.43,490.24 480.19,490.24 478.95,490.24 477.71,490.24 476.47,490.23 475.23,490.23 473.99,490.23 472.75,490.22 471.5,490.22 470.26,490.21 469.02,490.21 467.78,490.21 466.54,490.2 465.3,490.19 464.06,490.19 462.81,490.18 461.57,490.17 460.33,490.16 459.09,490.16 457.85,490.14 456.61,490.13 455.37,490.12 454.13,490.1 452.88,490.09 451.64,490.07 450.4,490.05 449.16,490.03 447.92,490 446.68,489.97 445.44,489.94 444.19,489.91 442.95,489.87 441.71,489.83 440.47,489.79 439.23,489.74 437.99,489.68 436.75,489.61 435.51,489.54 434.26,489.46 433.02,489.37 431.78,489.27 430.54,489.16 429.3,489.04 428.06,488.91 426.82,488.76 425.57,488.61 424.33,488.45 423.09,488.27 421.85,488.09 420.61,487.89 419.37,487.7 418.13,487.5 416.89,487.3 415.64,487.11 414.4,486.92 413.16,486.74 411.92,486.56 410.68,486.39 409.44,486.23 408.2,486.07 406.95,485.92 405.71,485.79 404.47,485.66 403.23,485.54 401.99,485.42 400.75,485.32 399.51,485.23 398.27,485.14 397.02,485.07 395.78,485 394.54,484.95 393.3,484.89 392.06,484.84 390.82,484.79 389.58,484.74 388.33,484.7 387.09,484.66 385.85,484.63 384.61,484.59 383.37,484.56 382.13,484.53 380.89,484.51 379.65,484.48 378.4,484.46 377.16,484.44 375.92,484.42 374.68,484.4 373.44,484.39 372.2,484.37 370.96,484.36 369.71,484.34 368.47,484.33 367.23,484.32 365.99,484.31 364.75,484.3 363.51,484.29 362.27,484.28 361.03,484.27 359.78,484.26 358.54,484.25 357.3,484.23 356.06,484.22 354.82,484.21 353.58,484.2 352.34,484.18 351.09,484.17 349.85,484.15 348.61,484.14 347.37,484.12 346.13,484.1 344.89,484.08 343.65,484.06 342.41,484.03 341.16,484 339.92,483.97 338.68,483.94 337.44,483.91 336.2,483.87 334.96,483.83 333.72,483.78 332.47,483.73 331.23,483.68 329.99,483.62 328.75,483.55 327.51,483.47 326.27,483.39 325.03,483.3 323.79,483.2 322.54,483.09 321.3,482.97 320.06,482.83 318.82,482.68 317.58,482.5 316.34,482.31 315.1,482.09 313.85,481.85 312.61,481.58 311.37,481.27 310.13,480.93 308.89,480.54 307.65,480.1 306.41,479.59 305.17,479 303.92,478.28 302.68,477.38 301.01,476.06" fill="#1f78bf"/>
<rect x="292.1" y="473.7" width="203.7" height="1" fill="#1f77b4" opacity="0.75"/>
<clipPath id="cp-d"><polygon points="300.94,474.2 300.82,299.48 302.06,299.48 302.06,301.7 303.3,301.7 303.3,304.27 304.54,304.27 304.54,307.45 305.79,307.45 305.79,312.24 307.03,312.24 307.03,317.38 308.27,317.38 308.27,322.16 309.51,322.16 309.51,327.12 310.75,327.12 310.75,332.26 311.99,332.26 311.99,337.76 313.23,337.76 313.23,343.07 314.48,343.07 314.48,348.57 315.72,348.57 315.72,353.88 316.96,353.88 316.96,359.02 318.2,359.02 318.2,364.16 319.44,364.16 319.44,369.65 320.68,369.65 320.68,374.61 321.92,374.61 321.92,379.22 323.16,379.22 323.16,383.52 324.41,383.52 324.41,387.55 325.65,387.55 325.65,391.29 326.89,391.29 326.89,394.86 328.13,394.86 328.13,398.45 329.37,398.45 329.37,401.9 330.61,401.9 330.61,404.97 331.85,404.97 331.85,407.86 333.1,407.86 333.1,410.71 334.34,410.71 334.34,413.5 335.58,413.5 335.58,416.15 336.82,416.15 336.82,418.63 338.06,418.63 338.06,420.99 339.3,420.99 339.3,423.21 340.54,423.21 340.54,425.27 341.78,425.27 341.78,427.15 343.03,427.15 343.03,428.89 344.27,428.89 344.27,430.54 345.51,430.54 345.51,432.16 346.75,432.16 346.75,433.77 347.99,433.77 347.99,435.31 349.23,435.31 349.23,436.7 350.47,436.7 350.47,437.9 351.72,437.9 351.72,439 352.96,439 352.96,439.97 354.2,439.97 354.2,440.78 355.44,440.78 355.44,441.55 356.68,441.55 356.68,442.3 357.92,442.3 357.92,442.92 359.16,442.92 359.16,443.3 360.4,443.3 360.4,443.35 361.65,443.35 361.65,443.16 362.89,443.16 362.89,442.81 364.13,442.81 364.13,442.36 365.37,442.36 365.37,441.85 366.61,441.85 366.61,441.06 367.85,441.06 367.85,440.04 369.09,440.04 369.09,438.9 370.34,438.9 370.34,437.73 371.58,437.73 371.58,436.43 372.82,436.43 372.82,435 374.06,435 374.06,433.45 375.3,433.45 375.3,431.84 376.54,431.84 376.54,430.15 377.78,430.15 377.78,428.36 379.02,428.36 379.02,426.48 380.27,426.48 380.27,424.51 381.51,424.51 381.51,422.45 382.75,422.45 382.75,420.25 383.99,420.25 383.99,417.96 385.23,417.96 385.23,415.62 386.47,415.62 386.47,413.23 387.71,413.23 387.71,410.77 388.96,410.77 388.96,408.24 390.2,408.24 390.2,405.67 391.44,405.67 391.44,403.19 392.68,403.19 392.68,400.57 393.92,400.57 393.92,397.52 395.16,397.52 395.16,393.57 396.4,393.57 396.4,388.61 397.64,388.61 397.64,382.57 398.89,382.57 398.89,377.02 400.13,377.02 400.13,372.02 401.37,372.02 401.37,367.1 402.61,367.1 402.61,362.32 403.85,362.32 403.85,357.69 405.09,357.69 405.09,353.15 406.33,353.15 406.33,348.48 407.58,348.48 407.58,343.9 408.82,343.9 408.82,339.88 410.06,339.88 410.06,336.21 411.3,336.21 411.3,332.51 412.54,332.51 412.54,328.91 413.78,328.91 413.78,325.71 415.02,325.71 415.02,322.8 416.26,322.8 416.26,320.39 417.51,320.39 417.51,318.28 418.75,318.28 418.75,317.39 419.99,317.39 419.99,318.49 421.23,318.49 421.23,320.59 422.47,320.59 422.47,323.74 423.71,323.74 423.71,327.75 424.95,327.75 424.95,332.12 426.2,332.12 426.2,336.36 427.44,336.36 427.44,341.17 428.68,341.17 428.68,346.27 429.92,346.27 429.92,350.95 431.16,350.95 431.16,356.42 432.4,356.42 432.4,362.21 433.64,362.21 433.64,367.76 434.88,367.76 434.88,373.32 436.13,373.32 436.13,378.86 437.37,378.86 437.37,384.46 438.61,384.46 438.61,389.39 439.85,389.39 439.85,393.5 441.09,393.5 441.09,397.41 442.33,397.41 442.33,401.28 443.57,401.28 443.57,404.92 444.82,404.92 444.82,408.36 446.06,408.36 446.06,411.57 447.3,411.57 447.3,414.5 448.54,414.5 448.54,417.22 449.78,417.22 449.78,419.81 451.02,419.81 451.02,422.36 452.26,422.36 452.26,424.93 453.5,424.93 453.5,427.57 454.75,427.57 454.75,430.2 455.99,430.2 455.99,432.69 457.23,432.69 457.23,434.93 458.47,434.93 458.47,436.98 459.71,436.98 459.71,438.88 460.95,438.88 460.95,440.64 462.19,440.64 462.19,442.27 463.44,442.27 463.44,443.8 464.68,443.8 464.68,445.23 465.92,445.23 465.92,446.54 467.16,446.54 467.16,447.73 468.4,447.73 468.4,448.83 469.64,448.83 469.64,449.84 470.88,449.84 470.88,450.77 472.12,450.77 472.12,451.6 473.37,451.6 473.37,452.42 474.61,452.42 474.61,453.2 475.85,453.2 475.85,453.83 477.09,453.83 477.09,454.2 478.33,454.2 478.33,454.41 479.57,454.41 479.57,454.56 480.81,454.56 480.81,454.62 482.06,454.62 482.06,454.36 483.3,454.36 483.3,453.82 484.54,453.82 484.54,453.08 485.78,453.08 485.78,452.05 487.02,452.05 486.83,474.2"/></clipPath>
<g clip-path="url(#cp-d)">
<rect x="300.94" y="290.55" width="185.89" height="208.95" fill="#000" opacity="0.55"/>
<g fill="#000" opacity="0.38"><rect x="300.94" y="290.55" width="1.24" height="208.95"/><rect x="304.38" y="290.55" width="3.84" height="208.95"/><rect x="310.42" y="290.55" width="3.84" height="208.95"/><rect x="316.46" y="290.55" width="3.84" height="208.95"/><rect x="322.5" y="290.55" width="3.84" height="208.95"/><rect x="328.54" y="290.55" width="3.84" height="208.95"/><rect x="334.58" y="290.55" width="3.84" height="208.95"/><rect x="340.62" y="290.55" width="3.84" height="208.95"/><rect x="346.66" y="290.55" width="3.84" height="208.95"/><rect x="352.7" y="290.55" width="3.84" height="208.95"/><rect x="358.74" y="290.55" width="3.84" height="208.95"/><rect x="364.78" y="290.55" width="3.84" height="208.95"/><rect x="370.82" y="290.55" width="3.84" height="208.95"/><rect x="376.86" y="290.55" width="3.84" height="208.95"/><rect x="382.9" y="290.55" width="3.84" height="208.95"/><rect x="388.94" y="290.55" width="3.84" height="208.95"/><rect x="394.98" y="290.55" width="3.84" height="208.95"/><rect x="401.02" y="290.55" width="3.84" height="208.95"/><rect x="407.06" y="290.55" width="3.84" height="208.95"/><rect x="413.1" y="290.55" width="3.84" height="208.95"/><rect x="419.14" y="290.55" width="3.84" height="208.95"/><rect x="425.18" y="290.55" width="3.84" height="208.95"/><rect x="431.22" y="290.55" width="3.84" height="208.95"/><rect x="437.26" y="290.55" width="3.84" height="208.95"/><rect x="443.3" y="290.55" width="3.84" height="208.95"/><rect x="449.34" y="290.55" width="3.84" height="208.95"/><rect x="455.38" y="290.55" width="3.84" height="208.95"/><rect x="461.42" y="290.55" width="3.84" height="208.95"/><rect x="467.46" y="290.55" width="3.84" height="208.95"/><rect x="473.5" y="290.55" width="3.84" height="208.95"/><rect x="479.54" y="290.55" width="3.84" height="208.95"/><rect x="485.58" y="290.55" width="1.25" height="208.95"/></g>
</g>
<polygon points="301.01,472.34 302.68,471.02 303.92,470.12 305.17,469.4 306.41,468.81 307.65,468.3 308.89,467.86 310.13,467.47 311.37,467.13 312.61,466.82 313.85,466.55 315.1,466.31 316.34,466.09 317.58,465.9 318.82,465.72 320.06,465.57 321.3,465.43 322.54,465.31 323.79,465.2 325.03,465.1 326.27,465.01 327.51,464.93 328.75,464.85 329.99,464.78 331.23,464.72 332.47,464.67 333.72,464.62 334.96,464.57 336.2,464.53 337.44,464.49 338.68,464.46 339.92,464.43 341.16,464.4 342.41,464.37 343.65,464.34 344.89,464.32 346.13,464.3 347.37,464.28 348.61,464.26 349.85,464.25 351.09,464.23 352.34,464.22 353.58,464.2 354.82,464.19 356.06,464.18 357.3,464.17 358.54,464.15 359.78,464.14 361.03,464.13 362.27,464.12 363.51,464.11 364.75,464.1 365.99,464.09 367.23,464.08 368.47,464.07 369.71,464.06 370.96,464.04 372.2,464.03 373.44,464.01 374.68,464 375.92,463.98 377.16,463.96 378.4,463.94 379.65,463.92 380.89,463.89 382.13,463.87 383.37,463.84 384.61,463.81 385.85,463.77 387.09,463.74 388.33,463.7 389.58,463.66 390.82,463.61 392.06,463.56 393.3,463.51 394.54,463.45 395.78,463.4 397.02,463.33 398.27,463.26 399.51,463.17 400.75,463.08 401.99,462.98 403.23,462.86 404.47,462.74 405.71,462.61 406.95,462.48 408.2,462.33 409.44,462.17 410.68,462.01 411.92,461.84 413.16,461.66 414.4,461.48 415.64,461.29 416.89,461.1 418.13,460.9 419.37,460.7 420.61,460.51 421.85,460.31 423.09,460.13 424.33,459.95 425.57,459.79 426.82,459.64 428.06,459.49 429.3,459.36 430.54,459.24 431.78,459.13 433.02,459.03 434.26,458.94 435.51,458.86 436.75,458.79 437.99,458.72 439.23,458.66 440.47,458.61 441.71,458.57 442.95,458.53 444.19,458.49 445.44,458.46 446.68,458.43 447.92,458.4 449.16,458.37 450.4,458.35 451.64,458.33 452.88,458.31 454.13,458.3 455.37,458.28 456.61,458.27 457.85,458.26 459.09,458.24 460.33,458.24 461.57,458.23 462.81,458.22 464.06,458.21 465.3,458.21 466.54,458.2 467.78,458.19 469.02,458.19 470.26,458.19 471.5,458.18 472.75,458.18 473.99,458.17 475.23,458.17 476.47,458.17 477.71,458.16 478.95,458.16 480.19,458.16 481.43,458.16 482.68,458.15 483.92,458.15 485.16,458.15 486.52,458.15 486.52,490.25 485.16,490.25 483.92,490.25 482.68,490.25 481.43,490.24 480.19,490.24 478.95,490.24 477.71,490.24 476.47,490.23 475.23,490.23 473.99,490.23 472.75,490.22 471.5,490.22 470.26,490.21 469.02,490.21 467.78,490.21 466.54,490.2 465.3,490.19 464.06,490.19 462.81,490.18 461.57,490.17 460.33,490.16 459.09,490.16 457.85,490.14 456.61,490.13 455.37,490.12 454.13,490.1 452.88,490.09 451.64,490.07 450.4,490.05 449.16,490.03 447.92,490 446.68,489.97 445.44,489.94 444.19,489.91 442.95,489.87 441.71,489.83 440.47,489.79 439.23,489.74 437.99,489.68 436.75,489.61 435.51,489.54 434.26,489.46 433.02,489.37 431.78,489.27 430.54,489.16 429.3,489.04 428.06,488.91 426.82,488.76 425.57,488.61 424.33,488.45 423.09,488.27 421.85,488.09 420.61,487.89 419.37,487.7 418.13,487.5 416.89,487.3 415.64,487.11 414.4,486.92 413.16,486.74 411.92,486.56 410.68,486.39 409.44,486.23 408.2,486.07 406.95,485.92 405.71,485.79 404.47,485.66 403.23,485.54 401.99,485.42 400.75,485.32 399.51,485.23 398.27,485.14 397.02,485.07 395.78,485 394.54,484.95 393.3,484.89 392.06,484.84 390.82,484.79 389.58,484.74 388.33,484.7 387.09,484.66 385.85,484.63 384.61,484.59 383.37,484.56 382.13,484.53 380.89,484.51 379.65,484.48 378.4,484.46 377.16,484.44 375.92,484.42 374.68,484.4 373.44,484.39 372.2,484.37 370.96,484.36 369.71,484.34 368.47,484.33 367.23,484.32 365.99,484.31 364.75,484.3 363.51,484.29 362.27,484.28 361.03,484.27 359.78,484.26 358.54,484.25 357.3,484.23 356.06,484.22 354.82,484.21 353.58,484.2 352.34,484.18 351.09,484.17 349.85,484.15 348.61,484.14 347.37,484.12 346.13,484.1 344.89,484.08 343.65,484.06 342.41,484.03 341.16,484 339.92,483.97 338.68,483.94 337.44,483.91 336.2,483.87 334.96,483.83 333.72,483.78 332.47,483.73 331.23,483.68 329.99,483.62 328.75,483.55 327.51,483.47 326.27,483.39 325.03,483.3 323.79,483.2 322.54,483.09 321.3,482.97 320.06,482.83 318.82,482.68 317.58,482.5 316.34,482.31 315.1,482.09 313.85,481.85 312.61,481.58 311.37,481.27 310.13,480.93 308.89,480.54 307.65,480.1 306.41,479.59 305.17,479 303.92,478.28 302.68,477.38 301.01,476.06" fill="#1f78bf" opacity="0.09"/>
<g fill="#1f77b4"><circle cx="301.44" cy="299.48" r="1.45"/><circle cx="302.68" cy="301.7" r="1.45"/><circle cx="303.92" cy="304.27" r="1.45"/><circle cx="305.17" cy="307.45" r="1.45"/><circle cx="306.41" cy="312.24" r="1.45"/><circle cx="307.65" cy="317.38" r="1.45"/><circle cx="308.89" cy="322.16" r="1.45"/><circle cx="310.13" cy="327.12" r="1.45"/><circle cx="311.37" cy="332.26" r="1.45"/><circle cx="312.61" cy="337.76" r="1.45"/><circle cx="313.85" cy="343.07" r="1.45"/><circle cx="315.1" cy="348.57" r="1.45"/><circle cx="316.34" cy="353.88" r="1.45"/><circle cx="317.58" cy="359.02" r="1.45"/><circle cx="318.82" cy="364.16" r="1.45"/><circle cx="320.06" cy="369.65" r="1.45"/><circle cx="321.3" cy="374.61" r="1.45"/><circle cx="322.54" cy="379.22" r="1.45"/><circle cx="323.79" cy="383.52" r="1.45"/><circle cx="325.03" cy="387.55" r="1.45"/><circle cx="326.27" cy="391.29" r="1.45"/><circle cx="327.51" cy="394.86" r="1.45"/><circle cx="328.75" cy="398.45" r="1.45"/><circle cx="329.99" cy="401.9" r="1.45"/><circle cx="331.23" cy="404.97" r="1.45"/><circle cx="332.47" cy="407.86" r="1.45"/><circle cx="333.72" cy="410.71" r="1.45"/><circle cx="334.96" cy="413.5" r="1.45"/><circle cx="336.2" cy="416.15" r="1.45"/><circle cx="337.44" cy="418.63" r="1.45"/><circle cx="338.68" cy="420.99" r="1.45"/><circle cx="339.92" cy="423.21" r="1.45"/><circle cx="341.16" cy="425.27" r="1.45"/><circle cx="342.41" cy="427.15" r="1.45"/><circle cx="343.65" cy="428.89" r="1.45"/><circle cx="344.89" cy="430.54" r="1.45"/><circle cx="346.13" cy="432.16" r="1.45"/><circle cx="347.37" cy="433.77" r="1.45"/><circle cx="348.61" cy="435.31" r="1.45"/><circle cx="349.85" cy="436.7" r="1.45"/><circle cx="351.09" cy="437.9" r="1.45"/><circle cx="352.34" cy="439" r="1.45"/><circle cx="353.58" cy="439.97" r="1.45"/><circle cx="354.82" cy="440.78" r="1.45"/><circle cx="356.06" cy="441.55" r="1.45"/><circle cx="357.3" cy="442.3" r="1.45"/><circle cx="358.54" cy="442.92" r="1.45"/><circle cx="359.78" cy="443.3" r="1.45"/><circle cx="361.03" cy="443.35" r="1.45"/><circle cx="362.27" cy="443.16" r="1.45"/><circle cx="363.51" cy="442.81" r="1.45"/><circle cx="364.75" cy="442.36" r="1.45"/><circle cx="365.99" cy="441.85" r="1.45"/><circle cx="367.23" cy="441.06" r="1.45"/><circle cx="368.47" cy="440.04" r="1.45"/><circle cx="369.71" cy="438.9" r="1.45"/><circle cx="370.96" cy="437.73" r="1.45"/><circle cx="372.2" cy="436.43" r="1.45"/><circle cx="373.44" cy="435" r="1.45"/><circle cx="374.68" cy="433.45" r="1.45"/><circle cx="375.92" cy="431.84" r="1.45"/><circle cx="377.16" cy="430.15" r="1.45"/><circle cx="378.4" cy="428.36" r="1.45"/><circle cx="379.65" cy="426.48" r="1.45"/><circle cx="380.89" cy="424.51" r="1.45"/><circle cx="382.13" cy="422.45" r="1.45"/><circle cx="383.37" cy="420.25" r="1.45"/><circle cx="384.61" cy="417.96" r="1.45"/><circle cx="385.85" cy="415.62" r="1.45"/><circle cx="387.09" cy="413.23" r="1.45"/><circle cx="388.33" cy="410.77" r="1.45"/><circle cx="389.58" cy="408.24" r="1.45"/><circle cx="390.82" cy="405.67" r="1.45"/><circle cx="392.06" cy="403.19" r="1.45"/><circle cx="393.3" cy="400.57" r="1.45"/><circle cx="394.54" cy="397.52" r="1.45"/><circle cx="395.78" cy="393.57" r="1.45"/><circle cx="397.02" cy="388.61" r="1.45"/><circle cx="398.27" cy="382.57" r="1.45"/><circle cx="399.51" cy="377.02" r="1.45"/><circle cx="400.75" cy="372.02" r="1.45"/><circle cx="401.99" cy="367.1" r="1.45"/><circle cx="403.23" cy="362.32" r="1.45"/><circle cx="404.47" cy="357.69" r="1.45"/><circle cx="405.71" cy="353.15" r="1.45"/><circle cx="406.95" cy="348.48" r="1.45"/><circle cx="408.2" cy="343.9" r="1.45"/><circle cx="409.44" cy="339.88" r="1.45"/><circle cx="410.68" cy="336.21" r="1.45"/><circle cx="411.92" cy="332.51" r="1.45"/><circle cx="413.16" cy="328.91" r="1.45"/><circle cx="414.4" cy="325.71" r="1.45"/><circle cx="415.64" cy="322.8" r="1.45"/><circle cx="416.89" cy="320.39" r="1.45"/><circle cx="418.13" cy="318.28" r="1.45"/><circle cx="419.37" cy="317.39" r="1.45"/><circle cx="420.61" cy="318.49" r="1.45"/><circle cx="421.85" cy="320.59" r="1.45"/><circle cx="423.09" cy="323.74" r="1.45"/><circle cx="424.33" cy="327.75" r="1.45"/><circle cx="425.57" cy="332.12" r="1.45"/><circle cx="426.82" cy="336.36" r="1.45"/><circle cx="428.06" cy="341.17" r="1.45"/><circle cx="429.3" cy="346.27" r="1.45"/><circle cx="430.54" cy="350.95" r="1.45"/><circle cx="431.78" cy="356.42" r="1.45"/><circle cx="433.02" cy="362.21" r="1.45"/><circle cx="434.26" cy="367.76" r="1.45"/><circle cx="435.51" cy="373.32" r="1.45"/><circle cx="436.75" cy="378.86" r="1.45"/><circle cx="437.99" cy="384.46" r="1.45"/><circle cx="439.23" cy="389.39" r="1.45"/><circle cx="440.47" cy="393.5" r="1.45"/><circle cx="441.71" cy="397.41" r="1.45"/><circle cx="442.95" cy="401.28" r="1.45"/><circle cx="444.19" cy="404.92" r="1.45"/><circle cx="445.44" cy="408.36" r="1.45"/><circle cx="446.68" cy="411.57" r="1.45"/><circle cx="447.92" cy="414.5" r="1.45"/><circle cx="449.16" cy="417.22" r="1.45"/><circle cx="450.4" cy="419.81" r="1.45"/><circle cx="451.64" cy="422.36" r="1.45"/><circle cx="452.88" cy="424.93" r="1.45"/><circle cx="454.13" cy="427.57" r="1.45"/><circle cx="455.37" cy="430.2" r="1.45"/><circle cx="456.61" cy="432.69" r="1.45"/><circle cx="457.85" cy="434.93" r="1.45"/><circle cx="459.09" cy="436.98" r="1.45"/><circle cx="460.33" cy="438.88" r="1.45"/><circle cx="461.57" cy="440.64" r="1.45"/><circle cx="462.81" cy="442.27" r="1.45"/><circle cx="464.06" cy="443.8" r="1.45"/><circle cx="465.3" cy="445.23" r="1.45"/><circle cx="466.54" cy="446.54" r="1.45"/><circle cx="467.78" cy="447.73" r="1.45"/><circle cx="469.02" cy="448.83" r="1.45"/><circle cx="470.26" cy="449.84" r="1.45"/><circle cx="471.5" cy="450.77" r="1.45"/><circle cx="472.75" cy="451.6" r="1.45"/><circle cx="473.99" cy="452.42" r="1.45"/><circle cx="475.23" cy="453.2" r="1.45"/><circle cx="476.47" cy="453.83" r="1.45"/><circle cx="477.71" cy="454.2" r="1.45"/><circle cx="478.95" cy="454.41" r="1.45"/><circle cx="480.19" cy="454.56" r="1.45"/><circle cx="481.43" cy="454.62" r="1.45"/><circle cx="482.68" cy="454.36" r="1.45"/><circle cx="483.92" cy="453.82" r="1.45"/><circle cx="485.16" cy="453.08" r="1.45"/><circle cx="486.4" cy="452.05" r="1.45"/></g>
<rect x="292.1" y="290.55" width="203.7" height="208.95" fill="none" stroke="#7c7c7c" stroke-width="0.9"/>
<g stroke="#555" stroke-width="0.9"><line x1="300.2" y1="499.5" x2="300.2" y2="501.5"/><line x1="331.23" y1="499.5" x2="331.23" y2="501.5"/><line x1="362.27" y1="499.5" x2="362.27" y2="501.5"/><line x1="393.3" y1="499.5" x2="393.3" y2="501.5"/><line x1="424.33" y1="499.5" x2="424.33" y2="501.5"/><line x1="455.37" y1="499.5" x2="455.37" y2="501.5"/><line x1="486.4" y1="499.5" x2="486.4" y2="501.5"/><line x1="290.1" y1="474.2" x2="292.1" y2="474.2"/><line x1="290.1" y1="438.76" x2="292.1" y2="438.76"/><line x1="290.1" y1="403.32" x2="292.1" y2="403.32"/><line x1="290.1" y1="367.88" x2="292.1" y2="367.88"/><line x1="290.1" y1="332.44" x2="292.1" y2="332.44"/><line x1="290.1" y1="297" x2="292.1" y2="297"/></g>
<text class="tk" transform="translate(300.2,509.7) scale(1,0.93)" text-anchor="middle">0</text><text class="tk" transform="translate(331.23,509.7) scale(1,0.93)" text-anchor="middle">25</text><text class="tk" transform="translate(362.27,509.7) scale(1,0.93)" text-anchor="middle">50</text><text class="tk" transform="translate(393.3,509.7) scale(1,0.93)" text-anchor="middle">75</text><text class="tk" transform="translate(424.33,509.7) scale(1,0.93)" text-anchor="middle">100</text><text class="tk" transform="translate(455.37,509.7) scale(1,0.93)" text-anchor="middle">125</text><text class="tk" transform="translate(486.4,509.7) scale(1,0.93)" text-anchor="middle">150</text>
<text class="tk" transform="translate(289,477.4) scale(1,0.93)" text-anchor="end">0.0</text><text class="tk" transform="translate(289,441.96) scale(1,0.93)" text-anchor="end">0.2</text><text class="tk" transform="translate(289,406.52) scale(1,0.93)" text-anchor="end">0.4</text><text class="tk" transform="translate(289,371.08) scale(1,0.93)" text-anchor="end">0.6</text><text class="tk" transform="translate(289,335.64) scale(1,0.93)" text-anchor="end">0.8</text><text class="tk" transform="translate(289,300.2) scale(1,0.93)" text-anchor="end">1.0</text>
<text class="lb" transform="translate(393.95,518.6) scale(1,0.92)" text-anchor="middle">Lag</text>
<text class="lb" transform="translate(271.3,395.02) rotate(-90) scale(1,0.92)" text-anchor="middle">Auto-correlation Coefficient</text>
<text class="cap" transform="translate(384.5,543) scale(1.055,1)" text-anchor="middle">(<tspan class="b">d</tspan>) ACF plot of ORI</text>
</g>
</svg>
</body></html>
